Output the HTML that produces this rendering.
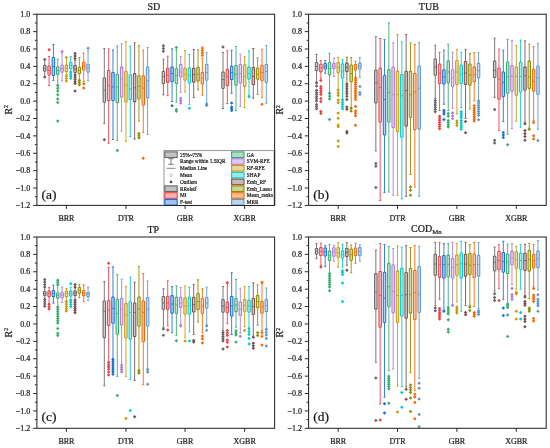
<!DOCTYPE html>
<html lang="en"><head><meta charset="utf-8"><title>Box plots of R2</title>
<style>html,body{margin:0;padding:0;background:#fff}.t{font-family:"Liberation Serif","Times New Roman",serif;stroke:#222;stroke-width:.22px}body{width:550px;height:448px;overflow:hidden}</style></head>
<body>
<svg width="550" height="448" viewBox="0 0 550 448" style="display:block">
<rect width="550" height="448" fill="#fff"/>
<path d="M44.75 59.6V65.3M44.75 71.1V77.1M43.7 59.6H45.8M43.7 77.1H45.8" stroke="#666666" stroke-width="0.88" fill="none"/><rect x="43.53" y="65.3" width="2.45" height="5.8" rx="0.6" fill="#666666" fill-opacity="0.3" stroke="#666666" stroke-width="1.05"/><path d="M43.53 68.2H45.98" stroke="#666666" stroke-width="0.8"/><path d="M44.75 57.85L46.5 59.6L44.75 61.35L43 59.6Z" fill="#666666"/><path d="M44.75 75.35L46.5 77.1L44.75 78.85L43 77.1Z" fill="#666666"/>
<path d="M49.08 56.4V66M49.08 74.9V85.5M48.03 56.4H50.13M48.03 85.5H50.13" stroke="#F14040" stroke-width="0.88" fill="none"/><rect x="47.86" y="66" width="2.45" height="8.9" rx="0.6" fill="#F14040" fill-opacity="0.3" stroke="#F14040" stroke-width="1.05"/><path d="M47.86 70.5H50.31" stroke="#F14040" stroke-width="0.8"/><path d="M49.08 48.05L50.83 49.8L49.08 51.55L47.33 49.8Z" fill="#F14040"/>
<path d="M53.41 44.4V57.5M53.41 75.5V80.4M52.36 44.4H54.46M52.36 80.4H54.46" stroke="#1A6FDF" stroke-width="0.88" fill="none"/><rect x="52.19" y="57.5" width="2.45" height="18" rx="0.6" fill="#1A6FDF" fill-opacity="0.3" stroke="#1A6FDF" stroke-width="1.05"/><path d="M52.19 66.5H54.64" stroke="#1A6FDF" stroke-width="0.8"/>
<path d="M57.74 59.4V66.7M57.74 74.4V84.9M56.69 59.4H58.79M56.69 84.9H58.79" stroke="#37AD6B" stroke-width="0.88" fill="none"/><rect x="56.52" y="66.7" width="2.45" height="7.7" rx="0.6" fill="#37AD6B" fill-opacity="0.3" stroke="#37AD6B" stroke-width="1.05"/><path d="M56.52 70.5H58.97" stroke="#37AD6B" stroke-width="0.8"/><path d="M57.74 83.75L59.49 85.5L57.74 87.25L55.99 85.5Z" fill="#37AD6B"/><path d="M57.74 86.5L59.49 88.25L57.74 90L55.99 88.25Z" fill="#37AD6B"/><path d="M57.74 89.25L59.49 91L57.74 92.75L55.99 91Z" fill="#37AD6B"/><path d="M57.74 92.95L59.49 94.7L57.74 96.45L55.99 94.7Z" fill="#37AD6B"/><path d="M57.74 97.35L59.49 99.1L57.74 100.85L55.99 99.1Z" fill="#37AD6B"/><path d="M57.74 100.65L59.49 102.4L57.74 104.15L55.99 102.4Z" fill="#37AD6B"/><path d="M57.74 119.15L59.49 120.9L57.74 122.65L55.99 120.9Z" fill="#37AD6B"/>
<path d="M62.07 53.1V64.9M62.07 72.2V80.9M61.02 53.1H63.12M61.02 80.9H63.12" stroke="#B177DE" stroke-width="0.88" fill="none"/><rect x="60.85" y="64.9" width="2.45" height="7.3" rx="0.6" fill="#B177DE" fill-opacity="0.3" stroke="#B177DE" stroke-width="1.05"/><path d="M60.85 68.5H63.3" stroke="#B177DE" stroke-width="0.8"/><path d="M62.07 49.75L63.82 51.5L62.07 53.25L60.32 51.5Z" fill="#B177DE"/>
<path d="M66.4 57.5V65.1M66.4 71.6V74.9M65.35 57.5H67.45M65.35 74.9H67.45" stroke="#CC9900" stroke-width="0.88" fill="none"/><rect x="65.18" y="65.1" width="2.45" height="6.5" rx="0.6" fill="#CC9900" fill-opacity="0.3" stroke="#CC9900" stroke-width="1.05"/><path d="M65.18 68.3H67.62" stroke="#CC9900" stroke-width="0.8"/><path d="M66.4 55.75L68.15 57.5L66.4 59.25L64.65 57.5Z" fill="#CC9900"/><path d="M66.4 74.25L68.15 76L66.4 77.75L64.65 76Z" fill="#CC9900"/><path d="M66.4 76.7L68.15 78.45L66.4 80.2L64.65 78.45Z" fill="#CC9900"/><path d="M66.4 79.15L68.15 80.9L66.4 82.65L64.65 80.9Z" fill="#CC9900"/>
<path d="M70.73 56.4V62.4M70.73 68.9V71.6M69.68 56.4H71.78M69.68 71.6H71.78" stroke="#00CBCC" stroke-width="0.88" fill="none"/><rect x="69.51" y="62.4" width="2.45" height="6.5" rx="0.6" fill="#00CBCC" fill-opacity="0.3" stroke="#00CBCC" stroke-width="1.05"/><path d="M69.51 65.6H71.95" stroke="#00CBCC" stroke-width="0.8"/><path d="M70.73 70.45L72.48 72.2L70.73 73.95L68.98 72.2Z" fill="#00CBCC"/><path d="M70.73 72.45L72.48 74.2L70.73 75.95L68.98 74.2Z" fill="#00CBCC"/><path d="M70.73 74.45L72.48 76.2L70.73 77.95L68.98 76.2Z" fill="#00CBCC"/><path d="M70.73 76.45L72.48 78.2L70.73 79.95L68.98 78.2Z" fill="#00CBCC"/>
<path d="M75.06 60.2V65.6M75.06 72.7V74.4M74.01 60.2H76.11M74.01 74.4H76.11" stroke="#7D4E4E" stroke-width="0.88" fill="none"/><rect x="73.84" y="65.6" width="2.45" height="7.1" rx="0.6" fill="#7D4E4E" fill-opacity="0.3" stroke="#7D4E4E" stroke-width="1.05"/><path d="M73.84 69H76.28" stroke="#7D4E4E" stroke-width="0.8"/><path d="M75.06 51.85L76.81 53.6L75.06 55.35L73.31 53.6Z" fill="#7D4E4E"/><path d="M75.06 54.3L76.81 56.05L75.06 57.8L73.31 56.05Z" fill="#7D4E4E"/><path d="M75.06 56.75L76.81 58.5L75.06 60.25L73.31 58.5Z" fill="#7D4E4E"/><path d="M75.06 73.15L76.81 74.9L75.06 76.65L73.31 74.9Z" fill="#7D4E4E"/><path d="M75.06 75.33L76.81 77.08L75.06 78.83L73.31 77.08Z" fill="#7D4E4E"/><path d="M75.06 77.5L76.81 79.25L75.06 81L73.31 79.25Z" fill="#7D4E4E"/><path d="M75.06 79.67L76.81 81.42L75.06 83.17L73.31 81.42Z" fill="#7D4E4E"/><path d="M75.06 81.85L76.81 83.6L75.06 85.35L73.31 83.6Z" fill="#7D4E4E"/><path d="M75.06 89.15L76.81 90.9L75.06 92.65L73.31 90.9Z" fill="#7D4E4E"/>
<path d="M79.39 57.5V67.3M79.39 73.8V79.8M78.34 57.5H80.44M78.34 79.8H80.44" stroke="#8E8E00" stroke-width="0.88" fill="none"/><rect x="78.17" y="67.3" width="2.45" height="6.5" rx="0.6" fill="#8E8E00" fill-opacity="0.3" stroke="#8E8E00" stroke-width="1.05"/><path d="M78.17 70.5H80.61" stroke="#8E8E00" stroke-width="0.8"/><path d="M79.39 78.65L81.14 80.4L79.39 82.15L77.64 80.4Z" fill="#8E8E00"/><path d="M79.39 80.8L81.14 82.55L79.39 84.3L77.64 82.55Z" fill="#8E8E00"/><path d="M79.39 82.95L81.14 84.7L79.39 86.45L77.64 84.7Z" fill="#8E8E00"/>
<path d="M83.72 53.1V62.4M83.72 70V81.5M82.67 53.1H84.77M82.67 81.5H84.77" stroke="#FB6501" stroke-width="0.88" fill="none"/><rect x="82.5" y="62.4" width="2.45" height="7.6" rx="0.6" fill="#FB6501" fill-opacity="0.3" stroke="#FB6501" stroke-width="1.05"/><path d="M82.5 66H84.94" stroke="#FB6501" stroke-width="0.8"/><path d="M83.72 82.05L85.47 83.8L83.72 85.55L81.97 83.8Z" fill="#FB6501"/><path d="M83.72 86.15L85.47 87.9L83.72 89.65L81.97 87.9Z" fill="#FB6501"/>
<path d="M88.05 50.9V64.2M88.05 72.2V80.9M87 50.9H89.1M87 80.9H89.1" stroke="#5A98D0" stroke-width="0.88" fill="none"/><rect x="86.83" y="64.2" width="2.45" height="8" rx="0.6" fill="#5A98D0" fill-opacity="0.3" stroke="#5A98D0" stroke-width="1.05"/><path d="M86.83 68H89.28" stroke="#5A98D0" stroke-width="0.8"/><path d="M88.05 46.45L89.8 48.2L88.05 49.95L86.3 48.2Z" fill="#5A98D0"/>
<path d="M104.3 48.5V78M104.3 102.2V123.6M103.25 48.5H105.35M103.25 123.6H105.35" stroke="#666666" stroke-width="0.88" fill="none"/><rect x="103.08" y="78" width="2.45" height="24.2" rx="0.6" fill="#666666" fill-opacity="0.3" stroke="#666666" stroke-width="1.05"/><path d="M103.08 90.2H105.53" stroke="#666666" stroke-width="0.8"/><path d="M104.3 138.05L106.05 139.8L104.3 141.55L102.55 139.8Z" fill="#666666"/>
<path d="M108.63 48.9V70.4M108.63 100.5V143.3M107.58 48.9H109.68M107.58 143.3H109.68" stroke="#F14040" stroke-width="0.88" fill="none"/><rect x="107.41" y="70.4" width="2.45" height="30.1" rx="0.6" fill="#F14040" fill-opacity="0.3" stroke="#F14040" stroke-width="1.05"/><path d="M107.41 85.6H109.85" stroke="#F14040" stroke-width="0.8"/>
<path d="M112.96 50V72.5M112.96 100.5V139.5M111.91 50H114.01M111.91 139.5H114.01" stroke="#1A6FDF" stroke-width="0.88" fill="none"/><rect x="111.74" y="72.5" width="2.45" height="28" rx="0.6" fill="#1A6FDF" fill-opacity="0.3" stroke="#1A6FDF" stroke-width="1.05"/><path d="M111.74 86.9H114.19" stroke="#1A6FDF" stroke-width="0.8"/>
<path d="M117.29 46V74.2M117.29 102.7V140.2M116.24 46H118.34M116.24 140.2H118.34" stroke="#37AD6B" stroke-width="0.88" fill="none"/><rect x="116.07" y="74.2" width="2.45" height="28.5" rx="0.6" fill="#37AD6B" fill-opacity="0.3" stroke="#37AD6B" stroke-width="1.05"/><path d="M116.07 86.9H118.52" stroke="#37AD6B" stroke-width="0.8"/><path d="M117.29 148.85L119.04 150.6L117.29 152.35L115.54 150.6Z" fill="#37AD6B"/>
<path d="M121.62 43.9V67.1M121.62 97.3V131.3M120.57 43.9H122.67M120.57 131.3H122.67" stroke="#B177DE" stroke-width="0.88" fill="none"/><rect x="120.4" y="67.1" width="2.45" height="30.2" rx="0.6" fill="#B177DE" fill-opacity="0.3" stroke="#B177DE" stroke-width="1.05"/><path d="M120.4 78.7H122.84" stroke="#B177DE" stroke-width="0.8"/>
<path d="M125.95 41.5V71.5M125.95 102V141.3M124.9 41.5H127M124.9 141.3H127" stroke="#CC9900" stroke-width="0.88" fill="none"/><rect x="124.73" y="71.5" width="2.45" height="30.5" rx="0.6" fill="#CC9900" fill-opacity="0.3" stroke="#CC9900" stroke-width="1.05"/><path d="M124.73 85.3H127.17" stroke="#CC9900" stroke-width="0.8"/>
<path d="M130.28 46V74.7M130.28 99.5V136.5M129.23 46H131.33M129.23 136.5H131.33" stroke="#00CBCC" stroke-width="0.88" fill="none"/><rect x="129.06" y="74.7" width="2.45" height="24.8" rx="0.6" fill="#00CBCC" fill-opacity="0.3" stroke="#00CBCC" stroke-width="1.05"/><path d="M129.06 88.9H131.5" stroke="#00CBCC" stroke-width="0.8"/>
<path d="M134.61 42.8V73.6M134.61 101.6V139.1M133.56 42.8H135.66M133.56 139.1H135.66" stroke="#7D4E4E" stroke-width="0.88" fill="none"/><rect x="133.39" y="73.6" width="2.45" height="28" rx="0.6" fill="#7D4E4E" fill-opacity="0.3" stroke="#7D4E4E" stroke-width="1.05"/><path d="M133.39 87.8H135.84" stroke="#7D4E4E" stroke-width="0.8"/>
<path d="M138.94 45.6V75.8M138.94 98.9V121.2M137.89 45.6H139.99M137.89 121.2H139.99" stroke="#8E8E00" stroke-width="0.88" fill="none"/><rect x="137.72" y="75.8" width="2.45" height="23.1" rx="0.6" fill="#8E8E00" fill-opacity="0.3" stroke="#8E8E00" stroke-width="1.05"/><path d="M137.72 86.4H140.16" stroke="#8E8E00" stroke-width="0.8"/><path d="M138.94 131.75L140.69 133.5L138.94 135.25L137.19 133.5Z" fill="#8E8E00"/><path d="M138.94 133.9L140.69 135.65L138.94 137.4L137.19 135.65Z" fill="#8E8E00"/><path d="M138.94 136.05L140.69 137.8L138.94 139.55L137.19 137.8Z" fill="#8E8E00"/>
<path d="M143.27 50V75.8M143.27 105.2V132.4M142.22 50H144.32M142.22 132.4H144.32" stroke="#FB6501" stroke-width="0.88" fill="none"/><rect x="142.05" y="75.8" width="2.45" height="29.4" rx="0.6" fill="#FB6501" fill-opacity="0.3" stroke="#FB6501" stroke-width="1.05"/><path d="M142.05 88.2H144.5" stroke="#FB6501" stroke-width="0.8"/><path d="M143.27 156.55L145.02 158.3L143.27 160.05L141.52 158.3Z" fill="#FB6501"/>
<path d="M147.6 47.5V67.1M147.6 97.8V134.5M146.55 47.5H148.65M146.55 134.5H148.65" stroke="#5A98D0" stroke-width="0.88" fill="none"/><rect x="146.38" y="67.1" width="2.45" height="30.7" rx="0.6" fill="#5A98D0" fill-opacity="0.3" stroke="#5A98D0" stroke-width="1.05"/><path d="M146.38 80.6H148.82" stroke="#5A98D0" stroke-width="0.8"/>
<path d="M163.4 59.2V71.4M163.4 83.5V94.9M162.35 59.2H164.45M162.35 94.9H164.45" stroke="#666666" stroke-width="0.88" fill="none"/><rect x="162.18" y="71.4" width="2.45" height="12.1" rx="0.6" fill="#666666" fill-opacity="0.3" stroke="#666666" stroke-width="1.05"/><path d="M162.18 76.4H164.62" stroke="#666666" stroke-width="0.8"/><path d="M163.4 44.05L165.15 45.8L163.4 47.55L161.65 45.8Z" fill="#666666"/><path d="M163.4 46.8L165.15 48.55L163.4 50.3L161.65 48.55Z" fill="#666666"/><path d="M163.4 49.55L165.15 51.3L163.4 53.05L161.65 51.3Z" fill="#666666"/>
<path d="M167.73 56.2V68.2M167.73 82.4V95.7M166.68 56.2H168.78M166.68 95.7H168.78" stroke="#F14040" stroke-width="0.88" fill="none"/><rect x="166.51" y="68.2" width="2.45" height="14.2" rx="0.6" fill="#F14040" fill-opacity="0.3" stroke="#F14040" stroke-width="1.05"/><path d="M166.51 75.3H168.96" stroke="#F14040" stroke-width="0.8"/>
<path d="M172.06 48.8V67.1M172.06 81.8V101.5M171.01 48.8H173.11M171.01 101.5H173.11" stroke="#1A6FDF" stroke-width="0.88" fill="none"/><rect x="170.84" y="67.1" width="2.45" height="14.7" rx="0.6" fill="#1A6FDF" fill-opacity="0.3" stroke="#1A6FDF" stroke-width="1.05"/><path d="M170.84 73.4H173.28" stroke="#1A6FDF" stroke-width="0.8"/><path d="M172.06 104.05L173.81 105.8L172.06 107.55L170.31 105.8Z" fill="#1A6FDF"/>
<path d="M176.39 49.9V68.7M176.39 83.5V102M175.34 49.9H177.44M175.34 102H177.44" stroke="#37AD6B" stroke-width="0.88" fill="none"/><rect x="175.17" y="68.7" width="2.45" height="14.8" rx="0.6" fill="#37AD6B" fill-opacity="0.3" stroke="#37AD6B" stroke-width="1.05"/><path d="M175.17 75.6H177.62" stroke="#37AD6B" stroke-width="0.8"/><path d="M176.39 45.75L178.14 47.5L176.39 49.25L174.64 47.5Z" fill="#37AD6B"/><path d="M176.39 107.85L178.14 109.6L176.39 111.35L174.64 109.6Z" fill="#37AD6B"/><path d="M176.39 109.55L178.14 111.3L176.39 113.05L174.64 111.3Z" fill="#37AD6B"/>
<path d="M180.72 56.4V64.4M180.72 76.9V92.4M179.67 56.4H181.77M179.67 92.4H181.77" stroke="#B177DE" stroke-width="0.88" fill="none"/><rect x="179.5" y="64.4" width="2.45" height="12.5" rx="0.6" fill="#B177DE" fill-opacity="0.3" stroke="#B177DE" stroke-width="1.05"/><path d="M179.5 72H181.94" stroke="#B177DE" stroke-width="0.8"/><path d="M180.72 96.45L182.47 98.2L180.72 99.95L178.97 98.2Z" fill="#B177DE"/><path d="M180.72 98.85L182.47 100.6L180.72 102.35L178.97 100.6Z" fill="#B177DE"/><path d="M180.72 101.25L182.47 103L180.72 104.75L178.97 103Z" fill="#B177DE"/>
<path d="M185.05 50.5V68.3M185.05 80.2V92M184 50.5H186.1M184 92H186.1" stroke="#CC9900" stroke-width="0.88" fill="none"/><rect x="183.83" y="68.3" width="2.45" height="11.9" rx="0.6" fill="#CC9900" fill-opacity="0.3" stroke="#CC9900" stroke-width="1.05"/><path d="M183.83 74.2H186.28" stroke="#CC9900" stroke-width="0.8"/>
<path d="M189.38 54.5V68M189.38 83.2V104.4M188.33 54.5H190.43M188.33 104.4H190.43" stroke="#00CBCC" stroke-width="0.88" fill="none"/><rect x="188.16" y="68" width="2.45" height="15.2" rx="0.6" fill="#00CBCC" fill-opacity="0.3" stroke="#00CBCC" stroke-width="1.05"/><path d="M188.16 75.3H190.61" stroke="#00CBCC" stroke-width="0.8"/><path d="M189.38 106.55L191.13 108.3L189.38 110.05L187.63 108.3Z" fill="#00CBCC"/>
<path d="M193.71 49.6V68.2M193.71 82.1V97.6M192.66 49.6H194.76M192.66 97.6H194.76" stroke="#7D4E4E" stroke-width="0.88" fill="none"/><rect x="192.49" y="68.2" width="2.45" height="13.9" rx="0.6" fill="#7D4E4E" fill-opacity="0.3" stroke="#7D4E4E" stroke-width="1.05"/><path d="M192.49 74.7H194.94" stroke="#7D4E4E" stroke-width="0.8"/>
<path d="M198.04 49.9V67.2M198.04 81.1V89.8M196.99 49.9H199.09M196.99 89.8H199.09" stroke="#8E8E00" stroke-width="0.88" fill="none"/><rect x="196.82" y="67.2" width="2.45" height="13.9" rx="0.6" fill="#8E8E00" fill-opacity="0.3" stroke="#8E8E00" stroke-width="1.05"/><path d="M196.82 74.2H199.27" stroke="#8E8E00" stroke-width="0.8"/>
<path d="M202.37 58.4V72.6M202.37 84V95.2M201.32 58.4H203.42M201.32 95.2H203.42" stroke="#FB6501" stroke-width="0.88" fill="none"/><rect x="201.15" y="72.6" width="2.45" height="11.4" rx="0.6" fill="#FB6501" fill-opacity="0.3" stroke="#FB6501" stroke-width="1.05"/><path d="M201.15 78H203.59" stroke="#FB6501" stroke-width="0.8"/><path d="M202.37 46.25L204.12 48L202.37 49.75L200.62 48Z" fill="#FB6501"/><path d="M202.37 48.78L204.12 50.53L202.37 52.28L200.62 50.53Z" fill="#FB6501"/><path d="M202.37 51.32L204.12 53.07L202.37 54.82L200.62 53.07Z" fill="#FB6501"/><path d="M202.37 53.85L204.12 55.6L202.37 57.35L200.62 55.6Z" fill="#FB6501"/>
<path d="M206.7 52.7V64.4M206.7 80.2V103.1M205.65 52.7H207.75M205.65 103.1H207.75" stroke="#5A98D0" stroke-width="0.88" fill="none"/><rect x="205.48" y="64.4" width="2.45" height="15.8" rx="0.6" fill="#5A98D0" fill-opacity="0.3" stroke="#5A98D0" stroke-width="1.05"/><path d="M205.48 72.5H207.93" stroke="#5A98D0" stroke-width="0.8"/><path d="M206.7 102.45L208.45 104.2L206.7 105.95L204.95 104.2Z" fill="#5A98D0"/><path d="M206.7 103.75L208.45 105.5L206.7 107.25L204.95 105.5Z" fill="#5A98D0"/>
<path d="M223 52.4V72M223 88.4V108.5M221.95 52.4H224.05M221.95 108.5H224.05" stroke="#666666" stroke-width="0.88" fill="none"/><rect x="221.78" y="72" width="2.45" height="16.4" rx="0.6" fill="#666666" fill-opacity="0.3" stroke="#666666" stroke-width="1.05"/><path d="M221.78 79.6H224.22" stroke="#666666" stroke-width="0.8"/><path d="M223 45.15L224.75 46.9L223 48.65L221.25 46.9Z" fill="#666666"/>
<path d="M227.33 50.7V69.3M227.33 85.6V103.6M226.28 50.7H228.38M226.28 103.6H228.38" stroke="#F14040" stroke-width="0.88" fill="none"/><rect x="226.11" y="69.3" width="2.45" height="16.3" rx="0.6" fill="#F14040" fill-opacity="0.3" stroke="#F14040" stroke-width="1.05"/><path d="M226.11 76.4H228.56" stroke="#F14040" stroke-width="0.8"/>
<path d="M231.66 50.2V66.2M231.66 79.6V93.3M230.61 50.2H232.71M230.61 93.3H232.71" stroke="#1A6FDF" stroke-width="0.88" fill="none"/><rect x="230.44" y="66.2" width="2.45" height="13.4" rx="0.6" fill="#1A6FDF" fill-opacity="0.3" stroke="#1A6FDF" stroke-width="1.05"/><path d="M230.44 72.5H232.88" stroke="#1A6FDF" stroke-width="0.8"/><path d="M231.66 101.35L233.41 103.1L231.66 104.85L229.91 103.1Z" fill="#1A6FDF"/><path d="M231.66 105.25L233.41 107L231.66 108.75L229.91 107Z" fill="#1A6FDF"/><path d="M231.66 107L233.41 108.75L231.66 110.5L229.91 108.75Z" fill="#1A6FDF"/><path d="M231.66 108.75L233.41 110.5L231.66 112.25L229.91 110.5Z" fill="#1A6FDF"/>
<path d="M235.99 46.4V65.5M235.99 85.1V110.7M234.94 46.4H237.04M234.94 110.7H237.04" stroke="#37AD6B" stroke-width="0.88" fill="none"/><rect x="234.77" y="65.5" width="2.45" height="19.6" rx="0.6" fill="#37AD6B" fill-opacity="0.3" stroke="#37AD6B" stroke-width="1.05"/><path d="M234.77 74.2H237.22" stroke="#37AD6B" stroke-width="0.8"/>
<path d="M240.32 54.2V64.4M240.32 82.9V106.4M239.27 54.2H241.37M239.27 106.4H241.37" stroke="#B177DE" stroke-width="0.88" fill="none"/><rect x="239.09" y="64.4" width="2.45" height="18.5" rx="0.6" fill="#B177DE" fill-opacity="0.3" stroke="#B177DE" stroke-width="1.05"/><path d="M239.09 73.6H241.54" stroke="#B177DE" stroke-width="0.8"/>
<path d="M244.65 56.4V64.7M244.65 86.5V107.5M243.6 56.4H245.7M243.6 107.5H245.7" stroke="#CC9900" stroke-width="0.88" fill="none"/><rect x="243.43" y="64.7" width="2.45" height="21.8" rx="0.6" fill="#CC9900" fill-opacity="0.3" stroke="#CC9900" stroke-width="1.05"/><path d="M243.43 76.4H245.88" stroke="#CC9900" stroke-width="0.8"/>
<path d="M248.98 50.9V67.1M248.98 79.1V95.5M247.93 50.9H250.03M247.93 95.5H250.03" stroke="#00CBCC" stroke-width="0.88" fill="none"/><rect x="247.76" y="67.1" width="2.45" height="12" rx="0.6" fill="#00CBCC" fill-opacity="0.3" stroke="#00CBCC" stroke-width="1.05"/><path d="M247.76 73.6H250.21" stroke="#00CBCC" stroke-width="0.8"/><path d="M248.98 95.05L250.73 96.8L248.98 98.55L247.23 96.8Z" fill="#00CBCC"/>
<path d="M253.31 48.5V67.6M253.31 84.5V98.2M252.26 48.5H254.36M252.26 98.2H254.36" stroke="#7D4E4E" stroke-width="0.88" fill="none"/><rect x="252.09" y="67.6" width="2.45" height="16.9" rx="0.6" fill="#7D4E4E" fill-opacity="0.3" stroke="#7D4E4E" stroke-width="1.05"/><path d="M252.09 76.4H254.53" stroke="#7D4E4E" stroke-width="0.8"/>
<path d="M257.64 57.8V68.2M257.64 79.1V94.4M256.59 57.8H258.69M256.59 94.4H258.69" stroke="#8E8E00" stroke-width="0.88" fill="none"/><rect x="256.41" y="68.2" width="2.45" height="10.9" rx="0.6" fill="#8E8E00" fill-opacity="0.3" stroke="#8E8E00" stroke-width="1.05"/><path d="M256.41 74.2H258.87" stroke="#8E8E00" stroke-width="0.8"/>
<path d="M261.97 49.4V65.5M261.97 80.7V97.4M260.92 49.4H263.02M260.92 97.4H263.02" stroke="#FB6501" stroke-width="0.88" fill="none"/><rect x="260.75" y="65.5" width="2.45" height="15.2" rx="0.6" fill="#FB6501" fill-opacity="0.3" stroke="#FB6501" stroke-width="1.05"/><path d="M260.75 72.5H263.2" stroke="#FB6501" stroke-width="0.8"/><path d="M261.97 102.45L263.72 104.2L261.97 105.95L260.22 104.2Z" fill="#FB6501"/>
<path d="M266.3 45.5V64.4M266.3 82.4V103.3M265.25 45.5H267.35M265.25 103.3H267.35" stroke="#5A98D0" stroke-width="0.88" fill="none"/><rect x="265.07" y="64.4" width="2.45" height="18" rx="0.6" fill="#5A98D0" fill-opacity="0.3" stroke="#5A98D0" stroke-width="1.05"/><path d="M265.07 71.5H267.53" stroke="#5A98D0" stroke-width="0.8"/>
<rect x="36.9" y="14.25" width="237.7" height="191.15" fill="none" stroke="#262626" stroke-width="1.05"/>
<path d="M33.1 14.25H36.9M34.9 22.94H36.9M33.1 31.63H36.9M34.9 40.32H36.9M33.1 49H36.9M34.9 57.69H36.9M33.1 66.38H36.9M34.9 75.07H36.9M33.1 83.76H36.9M34.9 92.45H36.9M33.1 101.14H36.9M34.9 109.82H36.9M33.1 118.51H36.9M34.9 127.2H36.9M33.1 135.89H36.9M34.9 144.58H36.9M33.1 153.27H36.9M34.9 161.96H36.9M33.1 170.65H36.9M34.9 179.33H36.9M33.1 188.02H36.9M34.9 196.71H36.9M33.1 205.4H36.9M66.4 205.4V208.9M125.95 205.4V208.9M185.05 205.4V208.9M244.65 205.4V208.9" stroke="#262626" stroke-width="1" fill="none"/>
<text x="30.3" y="16.95" text-anchor="end" class="t" font-size="8" fill="#1a1a1a">1.0</text>
<text x="30.3" y="34.33" text-anchor="end" class="t" font-size="8" fill="#1a1a1a">0.8</text>
<text x="30.3" y="51.7" text-anchor="end" class="t" font-size="8" fill="#1a1a1a">0.6</text>
<text x="30.3" y="69.08" text-anchor="end" class="t" font-size="8" fill="#1a1a1a">0.4</text>
<text x="30.3" y="86.46" text-anchor="end" class="t" font-size="8" fill="#1a1a1a">0.2</text>
<text x="30.3" y="103.84" text-anchor="end" class="t" font-size="8" fill="#1a1a1a">0.0</text>
<text x="30.3" y="121.21" text-anchor="end" class="t" font-size="8" fill="#1a1a1a">−0.2</text>
<text x="30.3" y="138.59" text-anchor="end" class="t" font-size="8" fill="#1a1a1a">−0.4</text>
<text x="30.3" y="155.97" text-anchor="end" class="t" font-size="8" fill="#1a1a1a">−0.6</text>
<text x="30.3" y="173.35" text-anchor="end" class="t" font-size="8" fill="#1a1a1a">−0.8</text>
<text x="30.3" y="190.72" text-anchor="end" class="t" font-size="8" fill="#1a1a1a">−1.0</text>
<text x="30.3" y="208.1" text-anchor="end" class="t" font-size="8" fill="#1a1a1a">−1.2</text>
<text x="66.4" y="220.7" text-anchor="middle" class="t" font-size="8" fill="#1a1a1a">BRR</text>
<text x="125.95" y="220.7" text-anchor="middle" class="t" font-size="8" fill="#1a1a1a">DTR</text>
<text x="185.05" y="220.7" text-anchor="middle" class="t" font-size="8" fill="#1a1a1a">GBR</text>
<text x="244.65" y="220.7" text-anchor="middle" class="t" font-size="8" fill="#1a1a1a">XGBR</text>
<text x="153.8" y="10.35" text-anchor="middle" class="t" font-size="10" fill="#1a1a1a">SD</text>
<text transform="translate(11.7 109.83) rotate(-90)" text-anchor="middle" class="t" font-size="10" fill="#1a1a1a">R<tspan font-size="5.6" dy="-3.9">2</tspan></text>
<text x="41.5" y="198.5" class="t" font-size="13.5" fill="#111">(a)</text>
<path d="M316.55 54.4V62.4M316.55 70.5V82M315.5 54.4H317.6M315.5 82H317.6" stroke="#666666" stroke-width="0.88" fill="none"/><rect x="315.32" y="62.4" width="2.45" height="8.1" rx="0.6" fill="#666666" fill-opacity="0.3" stroke="#666666" stroke-width="1.05"/><path d="M315.32 66.5H317.78" stroke="#666666" stroke-width="0.8"/><path d="M316.55 81.25L318.3 83L316.55 84.75L314.8 83Z" fill="#666666"/><path d="M316.55 84.25L318.3 86L316.55 87.75L314.8 86Z" fill="#666666"/><path d="M316.55 88.45L318.3 90.2L316.55 91.95L314.8 90.2Z" fill="#666666"/><path d="M316.55 90.65L318.3 92.4L316.55 94.15L314.8 92.4Z" fill="#666666"/><path d="M316.55 92.8L318.3 94.55L316.55 96.3L314.8 94.55Z" fill="#666666"/><path d="M316.55 94.95L318.3 96.7L316.55 98.45L314.8 96.7Z" fill="#666666"/><path d="M316.55 97.1L318.3 98.85L316.55 100.6L314.8 98.85Z" fill="#666666"/><path d="M316.55 99.25L318.3 101L316.55 102.75L314.8 101Z" fill="#666666"/><path d="M316.55 102.65L318.3 104.4L316.55 106.15L314.8 104.4Z" fill="#666666"/><path d="M316.55 104.8L318.3 106.55L316.55 108.3L314.8 106.55Z" fill="#666666"/><path d="M316.55 106.95L318.3 108.7L316.55 110.45L314.8 108.7Z" fill="#666666"/>
<path d="M320.88 60.7V64.2M320.88 71.9V78.2M319.83 60.7H321.93M319.83 78.2H321.93" stroke="#F14040" stroke-width="0.88" fill="none"/><rect x="319.65" y="64.2" width="2.45" height="7.7" rx="0.6" fill="#F14040" fill-opacity="0.3" stroke="#F14040" stroke-width="1.05"/><path d="M319.65 68H322.11" stroke="#F14040" stroke-width="0.8"/><path d="M320.88 78.65L322.63 80.4L320.88 82.15L319.13 80.4Z" fill="#F14040"/><path d="M320.88 84.65L322.63 86.4L320.88 88.15L319.13 86.4Z" fill="#F14040"/><path d="M320.88 86.68L322.63 88.43L320.88 90.18L319.13 88.43Z" fill="#F14040"/><path d="M320.88 88.7L322.63 90.45L320.88 92.2L319.13 90.45Z" fill="#F14040"/><path d="M320.88 90.72L322.63 92.47L320.88 94.22L319.13 92.47Z" fill="#F14040"/><path d="M320.88 92.75L322.63 94.5L320.88 96.25L319.13 94.5Z" fill="#F14040"/><path d="M320.88 96.65L322.63 98.4L320.88 100.15L319.13 98.4Z" fill="#F14040"/><path d="M320.88 99.85L322.63 101.6L320.88 103.35L319.13 101.6Z" fill="#F14040"/><path d="M320.88 109.75L322.63 111.5L320.88 113.25L319.13 111.5Z" fill="#F14040"/><path d="M320.88 111.85L322.63 113.6L320.88 115.35L319.13 113.6Z" fill="#F14040"/>
<path d="M325.21 60.5V63.5M325.21 68.9V73.3M324.16 60.5H326.26M324.16 73.3H326.26" stroke="#1A6FDF" stroke-width="0.88" fill="none"/><rect x="323.98" y="63.5" width="2.45" height="5.4" rx="0.6" fill="#1A6FDF" fill-opacity="0.3" stroke="#1A6FDF" stroke-width="1.05"/><path d="M323.98 66.2H326.44" stroke="#1A6FDF" stroke-width="0.8"/>
<path d="M329.54 53.3V62.4M329.54 74.9V92.4M328.49 53.3H330.59M328.49 92.4H330.59" stroke="#37AD6B" stroke-width="0.88" fill="none"/><rect x="328.31" y="62.4" width="2.45" height="12.5" rx="0.6" fill="#37AD6B" fill-opacity="0.3" stroke="#37AD6B" stroke-width="1.05"/><path d="M328.31 68.6H330.76" stroke="#37AD6B" stroke-width="0.8"/><path d="M329.54 91.75L331.29 93.5L329.54 95.25L327.79 93.5Z" fill="#37AD6B"/><path d="M329.54 94.45L331.29 96.2L329.54 97.95L327.79 96.2Z" fill="#37AD6B"/><path d="M329.54 97.15L331.29 98.9L329.54 100.65L327.79 98.9Z" fill="#37AD6B"/><path d="M329.54 117.75L331.29 119.5L329.54 121.25L327.79 119.5Z" fill="#37AD6B"/>
<path d="M333.87 58V63.5M333.87 68.6V76.5M332.82 58H334.92M332.82 76.5H334.92" stroke="#B177DE" stroke-width="0.88" fill="none"/><rect x="332.64" y="63.5" width="2.45" height="5.1" rx="0.6" fill="#B177DE" fill-opacity="0.3" stroke="#B177DE" stroke-width="1.05"/><path d="M332.64 66H335.1" stroke="#B177DE" stroke-width="0.8"/>
<path d="M338.2 57.5V62.4M338.2 72.7V89.6M337.15 57.5H339.25M337.15 89.6H339.25" stroke="#CC9900" stroke-width="0.88" fill="none"/><rect x="336.97" y="62.4" width="2.45" height="10.3" rx="0.6" fill="#CC9900" fill-opacity="0.3" stroke="#CC9900" stroke-width="1.05"/><path d="M336.97 67.5H339.43" stroke="#CC9900" stroke-width="0.8"/><path d="M338.2 88.45L339.95 90.2L338.2 91.95L336.45 90.2Z" fill="#CC9900"/><path d="M338.2 91.15L339.95 92.9L338.2 94.65L336.45 92.9Z" fill="#CC9900"/><path d="M338.2 93.85L339.95 95.6L338.2 97.35L336.45 95.6Z" fill="#CC9900"/><path d="M338.2 98.25L339.95 100L338.2 101.75L336.45 100Z" fill="#CC9900"/><path d="M338.2 100.95L339.95 102.7L338.2 104.45L336.45 102.7Z" fill="#CC9900"/><path d="M338.2 111.35L339.95 113.1L338.2 114.85L336.45 113.1Z" fill="#CC9900"/><path d="M338.2 116.45L339.95 118.2L338.2 119.95L336.45 118.2Z" fill="#CC9900"/><path d="M338.2 123.35L339.95 125.1L338.2 126.85L336.45 125.1Z" fill="#CC9900"/><path d="M338.2 124.95L339.95 126.7L338.2 128.45L336.45 126.7Z" fill="#CC9900"/><path d="M338.2 139.15L339.95 140.9L338.2 142.65L336.45 140.9Z" fill="#CC9900"/><path d="M338.2 144.65L339.95 146.4L338.2 148.15L336.45 146.4Z" fill="#CC9900"/>
<path d="M342.53 59.6V64M342.53 78.2V99.5M341.48 59.6H343.58M341.48 99.5H343.58" stroke="#00CBCC" stroke-width="0.88" fill="none"/><rect x="341.3" y="64" width="2.45" height="14.2" rx="0.6" fill="#00CBCC" fill-opacity="0.3" stroke="#00CBCC" stroke-width="1.05"/><path d="M341.3 71H343.75" stroke="#00CBCC" stroke-width="0.8"/><path d="M342.53 98.25L344.28 100L342.53 101.75L340.78 100Z" fill="#00CBCC"/><path d="M342.53 100.42L344.28 102.17L342.53 103.92L340.78 102.17Z" fill="#00CBCC"/><path d="M342.53 102.6L344.28 104.35L342.53 106.1L340.78 104.35Z" fill="#00CBCC"/><path d="M342.53 104.78L344.28 106.53L342.53 108.28L340.78 106.53Z" fill="#00CBCC"/><path d="M342.53 106.95L344.28 108.7L342.53 110.45L340.78 108.7Z" fill="#00CBCC"/>
<path d="M346.86 57.2V63.1M346.86 71.6V83.6M345.81 57.2H347.91M345.81 83.6H347.91" stroke="#7D4E4E" stroke-width="0.88" fill="none"/><rect x="345.63" y="63.1" width="2.45" height="8.5" rx="0.6" fill="#7D4E4E" fill-opacity="0.3" stroke="#7D4E4E" stroke-width="1.05"/><path d="M345.63 67.3H348.09" stroke="#7D4E4E" stroke-width="0.8"/><path d="M346.86 82.45L348.61 84.2L346.86 85.95L345.11 84.2Z" fill="#7D4E4E"/><path d="M346.86 84.78L348.61 86.53L346.86 88.28L345.11 86.53Z" fill="#7D4E4E"/><path d="M346.86 87.1L348.61 88.85L346.86 90.6L345.11 88.85Z" fill="#7D4E4E"/><path d="M346.86 89.42L348.61 91.17L346.86 92.92L345.11 91.17Z" fill="#7D4E4E"/><path d="M346.86 91.75L348.61 93.5L346.86 95.25L345.11 93.5Z" fill="#7D4E4E"/><path d="M346.86 94.45L348.61 96.2L346.86 97.95L345.11 96.2Z" fill="#7D4E4E"/><path d="M346.86 97.75L348.61 99.5L346.86 101.25L345.11 99.5Z" fill="#7D4E4E"/><path d="M346.86 105.35L348.61 107.1L346.86 108.85L345.11 107.1Z" fill="#7D4E4E"/><path d="M346.86 107.55L348.61 109.3L346.86 111.05L345.11 109.3Z" fill="#7D4E4E"/><path d="M346.86 129.75L348.61 131.5L346.86 133.25L345.11 131.5Z" fill="#7D4E4E"/><path d="M346.86 131.25L348.61 133L346.86 134.75L345.11 133Z" fill="#7D4E4E"/>
<path d="M351.19 57.5V64.9M351.19 81.8V107.6M350.14 57.5H352.24M350.14 107.6H352.24" stroke="#8E8E00" stroke-width="0.88" fill="none"/><rect x="349.96" y="64.9" width="2.45" height="16.9" rx="0.6" fill="#8E8E00" fill-opacity="0.3" stroke="#8E8E00" stroke-width="1.05"/><path d="M349.96 73.5H352.42" stroke="#8E8E00" stroke-width="0.8"/><path d="M351.19 106.45L352.94 108.2L351.19 109.95L349.44 108.2Z" fill="#8E8E00"/><path d="M351.19 109.15L352.94 110.9L351.19 112.65L349.44 110.9Z" fill="#8E8E00"/>
<path d="M355.52 61.3V64.5M355.52 70V77.1M354.47 61.3H356.57M354.47 77.1H356.57" stroke="#FB6501" stroke-width="0.88" fill="none"/><rect x="354.29" y="64.5" width="2.45" height="5.5" rx="0.6" fill="#FB6501" fill-opacity="0.3" stroke="#FB6501" stroke-width="1.05"/><path d="M354.29 67.2H356.75" stroke="#FB6501" stroke-width="0.8"/><path d="M355.52 76.45L357.27 78.2L355.52 79.95L353.77 78.2Z" fill="#FB6501"/><path d="M355.52 78.58L357.27 80.33L355.52 82.08L353.77 80.33Z" fill="#FB6501"/><path d="M355.52 80.71L357.27 82.46L355.52 84.21L353.77 82.46Z" fill="#FB6501"/><path d="M355.52 82.84L357.27 84.59L355.52 86.34L353.77 84.59Z" fill="#FB6501"/><path d="M355.52 84.97L357.27 86.72L355.52 88.47L353.77 86.72Z" fill="#FB6501"/><path d="M355.52 87.1L357.27 88.85L355.52 90.6L353.77 88.85Z" fill="#FB6501"/><path d="M355.52 89.23L357.27 90.98L355.52 92.73L353.77 90.98Z" fill="#FB6501"/><path d="M355.52 91.36L357.27 93.11L355.52 94.86L353.77 93.11Z" fill="#FB6501"/><path d="M355.52 93.49L357.27 95.24L355.52 96.99L353.77 95.24Z" fill="#FB6501"/><path d="M355.52 95.62L357.27 97.37L355.52 99.12L353.77 97.37Z" fill="#FB6501"/><path d="M355.52 97.75L357.27 99.5L355.52 101.25L353.77 99.5Z" fill="#FB6501"/><path d="M355.52 104.75L357.27 106.5L355.52 108.25L353.77 106.5Z" fill="#FB6501"/><path d="M355.52 109.15L357.27 110.9L355.52 112.65L353.77 110.9Z" fill="#FB6501"/><path d="M355.52 111.6L357.27 113.35L355.52 115.1L353.77 113.35Z" fill="#FB6501"/><path d="M355.52 114.05L357.27 115.8L355.52 117.55L353.77 115.8Z" fill="#FB6501"/><path d="M355.52 123.55L357.27 125.3L355.52 127.05L353.77 125.3Z" fill="#FB6501"/>
<path d="M359.85 57.5V63.1M359.85 69.2V77.3M358.8 57.5H360.9M358.8 77.3H360.9" stroke="#5A98D0" stroke-width="0.88" fill="none"/><rect x="358.62" y="63.1" width="2.45" height="6.1" rx="0.6" fill="#5A98D0" fill-opacity="0.3" stroke="#5A98D0" stroke-width="1.05"/><path d="M358.62 66.1H361.07" stroke="#5A98D0" stroke-width="0.8"/><path d="M359.85 84.65L361.6 86.4L359.85 88.15L358.1 86.4Z" fill="#5A98D0"/><path d="M359.85 90.65L361.6 92.4L359.85 94.15L358.1 92.4Z" fill="#5A98D0"/><path d="M359.85 92.75L361.6 94.5L359.85 96.25L358.1 94.5Z" fill="#5A98D0"/>
<path d="M375.85 36.7V70.2M375.85 102.9V150.9M374.8 36.7H376.9M374.8 150.9H376.9" stroke="#666666" stroke-width="0.88" fill="none"/><rect x="374.62" y="70.2" width="2.45" height="32.7" rx="0.6" fill="#666666" fill-opacity="0.3" stroke="#666666" stroke-width="1.05"/><path d="M374.62 82.7H377.08" stroke="#666666" stroke-width="0.8"/><path d="M375.85 161.75L377.6 163.5L375.85 165.25L374.1 163.5Z" fill="#666666"/><path d="M375.85 164.45L377.6 166.2L375.85 167.95L374.1 166.2Z" fill="#666666"/><path d="M375.85 185.75L377.6 187.5L375.85 189.25L374.1 187.5Z" fill="#666666"/>
<path d="M380.18 38.5V68M380.18 122.2V200.5M379.13 38.5H381.23M379.13 200.5H381.23" stroke="#F14040" stroke-width="0.88" fill="none"/><rect x="378.95" y="68" width="2.45" height="54.2" rx="0.6" fill="#F14040" fill-opacity="0.3" stroke="#F14040" stroke-width="1.05"/><path d="M378.95 87.6H381.41" stroke="#F14040" stroke-width="0.8"/>
<path d="M384.51 39.6V75.4M384.51 134.9V192.4M383.46 39.6H385.56M383.46 192.4H385.56" stroke="#1A6FDF" stroke-width="0.88" fill="none"/><rect x="383.28" y="75.4" width="2.45" height="59.5" rx="0.6" fill="#1A6FDF" fill-opacity="0.3" stroke="#1A6FDF" stroke-width="1.05"/><path d="M383.28 99.6H385.74" stroke="#1A6FDF" stroke-width="0.8"/>
<path d="M388.84 22.9V69.6M388.84 122.2V192M387.79 22.9H389.89M387.79 192H389.89" stroke="#37AD6B" stroke-width="0.88" fill="none"/><rect x="387.61" y="69.6" width="2.45" height="52.6" rx="0.6" fill="#37AD6B" fill-opacity="0.3" stroke="#37AD6B" stroke-width="1.05"/><path d="M387.61 92.5H390.06" stroke="#37AD6B" stroke-width="0.8"/>
<path d="M393.17 42.9V66.9M393.17 127.5V195.3M392.12 42.9H394.22M392.12 195.3H394.22" stroke="#B177DE" stroke-width="0.88" fill="none"/><rect x="391.94" y="66.9" width="2.45" height="60.6" rx="0.6" fill="#B177DE" fill-opacity="0.3" stroke="#B177DE" stroke-width="1.05"/><path d="M391.94 94.7H394.4" stroke="#B177DE" stroke-width="0.8"/>
<path d="M397.5 34.5V71.1M397.5 131.6V195.3M396.45 34.5H398.55M396.45 195.3H398.55" stroke="#CC9900" stroke-width="0.88" fill="none"/><rect x="396.27" y="71.1" width="2.45" height="60.5" rx="0.6" fill="#CC9900" fill-opacity="0.3" stroke="#CC9900" stroke-width="1.05"/><path d="M396.27 94.7H398.73" stroke="#CC9900" stroke-width="0.8"/>
<path d="M401.83 41.8V74.5M401.83 137.3V198.9M400.78 41.8H402.88M400.78 198.9H402.88" stroke="#00CBCC" stroke-width="0.88" fill="none"/><rect x="400.6" y="74.5" width="2.45" height="62.8" rx="0.6" fill="#00CBCC" fill-opacity="0.3" stroke="#00CBCC" stroke-width="1.05"/><path d="M400.6 95.8H403.06" stroke="#00CBCC" stroke-width="0.8"/>
<path d="M406.16 34.5V71.3M406.16 126.1V196.4M405.11 34.5H407.21M405.11 196.4H407.21" stroke="#7D4E4E" stroke-width="0.88" fill="none"/><rect x="404.94" y="71.3" width="2.45" height="54.8" rx="0.6" fill="#7D4E4E" fill-opacity="0.3" stroke="#7D4E4E" stroke-width="1.05"/><path d="M404.94 90.4H407.39" stroke="#7D4E4E" stroke-width="0.8"/>
<path d="M410.49 42.9V71.3M410.49 117.4V174.5M409.44 42.9H411.54M409.44 174.5H411.54" stroke="#8E8E00" stroke-width="0.88" fill="none"/><rect x="409.26" y="71.3" width="2.45" height="46.1" rx="0.6" fill="#8E8E00" fill-opacity="0.3" stroke="#8E8E00" stroke-width="1.05"/><path d="M409.26 94.7H411.72" stroke="#8E8E00" stroke-width="0.8"/><path d="M410.49 185.15L412.24 186.9L410.49 188.65L408.74 186.9Z" fill="#8E8E00"/><path d="M410.49 188.45L412.24 190.2L410.49 191.95L408.74 190.2Z" fill="#8E8E00"/><path d="M410.49 193.55L412.24 195.3L410.49 197.05L408.74 195.3Z" fill="#8E8E00"/>
<path d="M414.82 44.5V73.5M414.82 129.6V186.9M413.77 44.5H415.87M413.77 186.9H415.87" stroke="#FB6501" stroke-width="0.88" fill="none"/><rect x="413.59" y="73.5" width="2.45" height="56.1" rx="0.6" fill="#FB6501" fill-opacity="0.3" stroke="#FB6501" stroke-width="1.05"/><path d="M413.59 92H416.05" stroke="#FB6501" stroke-width="0.8"/>
<path d="M419.15 42.6V66M419.15 129.1V196.2M418.1 42.6H420.2M418.1 196.2H420.2" stroke="#5A98D0" stroke-width="0.88" fill="none"/><rect x="417.92" y="66" width="2.45" height="63.1" rx="0.6" fill="#5A98D0" fill-opacity="0.3" stroke="#5A98D0" stroke-width="1.05"/><path d="M417.92 88.2H420.38" stroke="#5A98D0" stroke-width="0.8"/>
<path d="M435.25 45.3V58.9M435.25 75.3V98.7M434.2 45.3H436.3M434.2 98.7H436.3" stroke="#666666" stroke-width="0.88" fill="none"/><rect x="434.02" y="58.9" width="2.45" height="16.4" rx="0.6" fill="#666666" fill-opacity="0.3" stroke="#666666" stroke-width="1.05"/><path d="M434.02 67H436.48" stroke="#666666" stroke-width="0.8"/><path d="M435.25 98.65L437 100.4L435.25 102.15L433.5 100.4Z" fill="#666666"/><path d="M435.25 100.93L437 102.68L435.25 104.43L433.5 102.68Z" fill="#666666"/><path d="M435.25 103.21L437 104.96L435.25 106.71L433.5 104.96Z" fill="#666666"/><path d="M435.25 105.49L437 107.24L435.25 108.99L433.5 107.24Z" fill="#666666"/><path d="M435.25 107.77L437 109.52L435.25 111.27L433.5 109.52Z" fill="#666666"/><path d="M435.25 110.05L437 111.8L435.25 113.55L433.5 111.8Z" fill="#666666"/>
<path d="M439.58 52.4V64M439.58 83.5V110.5M438.53 52.4H440.63M438.53 110.5H440.63" stroke="#F14040" stroke-width="0.88" fill="none"/><rect x="438.35" y="64" width="2.45" height="19.5" rx="0.6" fill="#F14040" fill-opacity="0.3" stroke="#F14040" stroke-width="1.05"/><path d="M438.35 73H440.81" stroke="#F14040" stroke-width="0.8"/><path d="M439.58 114.45L441.33 116.2L439.58 117.95L437.83 116.2Z" fill="#F14040"/><path d="M439.58 116.53L441.33 118.28L439.58 120.03L437.83 118.28Z" fill="#F14040"/><path d="M439.58 118.62L441.33 120.37L439.58 122.12L437.83 120.37Z" fill="#F14040"/><path d="M439.58 120.7L441.33 122.45L439.58 124.2L437.83 122.45Z" fill="#F14040"/><path d="M439.58 122.78L441.33 124.53L439.58 126.28L437.83 124.53Z" fill="#F14040"/><path d="M439.58 124.87L441.33 126.62L439.58 128.37L437.83 126.62Z" fill="#F14040"/><path d="M439.58 126.95L441.33 128.7L439.58 130.45L437.83 128.7Z" fill="#F14040"/>
<path d="M443.91 50.2V69.8M443.91 84V104.2M442.86 50.2H444.96M442.86 104.2H444.96" stroke="#1A6FDF" stroke-width="0.88" fill="none"/><rect x="442.68" y="69.8" width="2.45" height="14.2" rx="0.6" fill="#1A6FDF" fill-opacity="0.3" stroke="#1A6FDF" stroke-width="1.05"/><path d="M442.68 77H445.13" stroke="#1A6FDF" stroke-width="0.8"/><path d="M443.91 108.45L445.66 110.2L443.91 111.95L442.16 110.2Z" fill="#1A6FDF"/><path d="M443.91 110.35L445.66 112.1L443.91 113.85L442.16 112.1Z" fill="#1A6FDF"/><path d="M443.91 112.25L445.66 114L443.91 115.75L442.16 114Z" fill="#1A6FDF"/><path d="M443.91 117.75L445.66 119.5L443.91 121.25L442.16 119.5Z" fill="#1A6FDF"/>
<path d="M448.24 44.2V61.1M448.24 82.9V110.5M447.19 44.2H449.29M447.19 110.5H449.29" stroke="#37AD6B" stroke-width="0.88" fill="none"/><rect x="447.01" y="61.1" width="2.45" height="21.8" rx="0.6" fill="#37AD6B" fill-opacity="0.3" stroke="#37AD6B" stroke-width="1.05"/><path d="M447.01 72H449.46" stroke="#37AD6B" stroke-width="0.8"/><path d="M448.24 111.75L449.99 113.5L448.24 115.25L446.49 113.5Z" fill="#37AD6B"/><path d="M448.24 114.45L449.99 116.2L448.24 117.95L446.49 116.2Z" fill="#37AD6B"/><path d="M448.24 118.75L449.99 120.5L448.24 122.25L446.49 120.5Z" fill="#37AD6B"/><path d="M448.24 120.95L449.99 122.7L448.24 124.45L446.49 122.7Z" fill="#37AD6B"/><path d="M448.24 123.15L449.99 124.9L448.24 126.65L446.49 124.9Z" fill="#37AD6B"/><path d="M448.24 125.35L449.99 127.1L448.24 128.85L446.49 127.1Z" fill="#37AD6B"/>
<path d="M452.57 52.4V69.8M452.57 86.7V108.3M451.52 52.4H453.62M451.52 108.3H453.62" stroke="#B177DE" stroke-width="0.88" fill="none"/><rect x="451.34" y="69.8" width="2.45" height="16.9" rx="0.6" fill="#B177DE" fill-opacity="0.3" stroke="#B177DE" stroke-width="1.05"/><path d="M451.34 78H453.8" stroke="#B177DE" stroke-width="0.8"/><path d="M452.57 111.15L454.32 112.9L452.57 114.65L450.82 112.9Z" fill="#B177DE"/><path d="M452.57 113.9L454.32 115.65L452.57 117.4L450.82 115.65Z" fill="#B177DE"/><path d="M452.57 116.65L454.32 118.4L452.57 120.15L450.82 118.4Z" fill="#B177DE"/>
<path d="M456.9 49.4V60.5M456.9 84.5V114M455.85 49.4H457.95M455.85 114H457.95" stroke="#CC9900" stroke-width="0.88" fill="none"/><rect x="455.67" y="60.5" width="2.45" height="24" rx="0.6" fill="#CC9900" fill-opacity="0.3" stroke="#CC9900" stroke-width="1.05"/><path d="M455.67 72H458.12" stroke="#CC9900" stroke-width="0.8"/><path d="M456.9 119.35L458.65 121.1L456.9 122.85L455.15 121.1Z" fill="#CC9900"/><path d="M456.9 121.55L458.65 123.3L456.9 125.05L455.15 123.3Z" fill="#CC9900"/><path d="M456.9 123.75L458.65 125.5L456.9 127.25L455.15 125.5Z" fill="#CC9900"/>
<path d="M461.23 52.4V64.9M461.23 83.5V107.5M460.18 52.4H462.28M460.18 107.5H462.28" stroke="#00CBCC" stroke-width="0.88" fill="none"/><rect x="460" y="64.9" width="2.45" height="18.6" rx="0.6" fill="#00CBCC" fill-opacity="0.3" stroke="#00CBCC" stroke-width="1.05"/><path d="M460 74H462.45" stroke="#00CBCC" stroke-width="0.8"/><path d="M461.23 110.05L462.98 111.8L461.23 113.55L459.48 111.8Z" fill="#00CBCC"/><path d="M461.23 112.05L462.98 113.8L461.23 115.55L459.48 113.8Z" fill="#00CBCC"/><path d="M461.23 114.05L462.98 115.8L461.23 117.55L459.48 115.8Z" fill="#00CBCC"/><path d="M461.23 116.05L462.98 117.8L461.23 119.55L459.48 117.8Z" fill="#00CBCC"/><path d="M461.23 118.75L462.98 120.5L461.23 122.25L459.48 120.5Z" fill="#00CBCC"/><path d="M461.23 120.95L462.98 122.7L461.23 124.45L459.48 122.7Z" fill="#00CBCC"/><path d="M461.23 123.15L462.98 124.9L461.23 126.65L459.48 124.9Z" fill="#00CBCC"/><path d="M461.23 125.35L462.98 127.1L461.23 128.85L459.48 127.1Z" fill="#00CBCC"/><path d="M461.23 127.55L462.98 129.3L461.23 131.05L459.48 129.3Z" fill="#00CBCC"/>
<path d="M465.56 49.4V61.4M465.56 84.5V118.4M464.51 49.4H466.61M464.51 118.4H466.61" stroke="#7D4E4E" stroke-width="0.88" fill="none"/><rect x="464.33" y="61.4" width="2.45" height="23.1" rx="0.6" fill="#7D4E4E" fill-opacity="0.3" stroke="#7D4E4E" stroke-width="1.05"/><path d="M464.33 73H466.79" stroke="#7D4E4E" stroke-width="0.8"/><path d="M465.56 119.65L467.31 121.4L465.56 123.15L463.81 121.4Z" fill="#7D4E4E"/><path d="M465.56 131.05L467.31 132.8L465.56 134.55L463.81 132.8Z" fill="#7D4E4E"/>
<path d="M469.89 53.5V64M469.89 85.1V109M468.84 53.5H470.94M468.84 109H470.94" stroke="#8E8E00" stroke-width="0.88" fill="none"/><rect x="468.66" y="64" width="2.45" height="21.1" rx="0.6" fill="#8E8E00" fill-opacity="0.3" stroke="#8E8E00" stroke-width="1.05"/><path d="M468.66 75H471.12" stroke="#8E8E00" stroke-width="0.8"/>
<path d="M474.22 52.7V67.1M474.22 81.8V100.9M473.17 52.7H475.27M473.17 100.9H475.27" stroke="#FB6501" stroke-width="0.88" fill="none"/><rect x="472.99" y="67.1" width="2.45" height="14.7" rx="0.6" fill="#FB6501" fill-opacity="0.3" stroke="#FB6501" stroke-width="1.05"/><path d="M472.99 74.5H475.44" stroke="#FB6501" stroke-width="0.8"/><path d="M474.22 104.05L475.97 105.8L474.22 107.55L472.47 105.8Z" fill="#FB6501"/><path d="M474.22 106.24L475.97 107.99L474.22 109.74L472.47 107.99Z" fill="#FB6501"/><path d="M474.22 108.42L475.97 110.17L474.22 111.92L472.47 110.17Z" fill="#FB6501"/><path d="M474.22 110.61L475.97 112.36L474.22 114.11L472.47 112.36Z" fill="#FB6501"/><path d="M474.22 112.79L475.97 114.54L474.22 116.29L472.47 114.54Z" fill="#FB6501"/><path d="M474.22 114.98L475.97 116.73L474.22 118.48L472.47 116.73Z" fill="#FB6501"/><path d="M474.22 117.16L475.97 118.91L474.22 120.66L472.47 118.91Z" fill="#FB6501"/><path d="M474.22 119.35L475.97 121.1L474.22 122.85L472.47 121.1Z" fill="#FB6501"/>
<path d="M478.55 52.7V63.3M478.55 78V100.4M477.5 52.7H479.6M477.5 100.4H479.6" stroke="#5A98D0" stroke-width="0.88" fill="none"/><rect x="477.32" y="63.3" width="2.45" height="14.7" rx="0.6" fill="#5A98D0" fill-opacity="0.3" stroke="#5A98D0" stroke-width="1.05"/><path d="M477.32 70.5H479.77" stroke="#5A98D0" stroke-width="0.8"/><path d="M478.55 99.25L480.3 101L478.55 102.75L476.8 101Z" fill="#5A98D0"/><path d="M478.55 101.34L480.3 103.09L478.55 104.84L476.8 103.09Z" fill="#5A98D0"/><path d="M478.55 103.42L480.3 105.17L478.55 106.92L476.8 105.17Z" fill="#5A98D0"/><path d="M478.55 105.51L480.3 107.26L478.55 109.01L476.8 107.26Z" fill="#5A98D0"/><path d="M478.55 107.59L480.3 109.34L478.55 111.09L476.8 109.34Z" fill="#5A98D0"/><path d="M478.55 109.68L480.3 111.43L478.55 113.18L476.8 111.43Z" fill="#5A98D0"/><path d="M478.55 111.76L480.3 113.51L478.55 115.26L476.8 113.51Z" fill="#5A98D0"/><path d="M478.55 113.85L480.3 115.6L478.55 117.35L476.8 115.6Z" fill="#5A98D0"/><path d="M478.55 117.95L480.3 119.7L478.55 121.45L476.8 119.7Z" fill="#5A98D0"/>
<path d="M494.65 38.2V61.1M494.65 77.5V97.6M493.6 38.2H495.7M493.6 97.6H495.7" stroke="#666666" stroke-width="0.88" fill="none"/><rect x="493.42" y="61.1" width="2.45" height="16.4" rx="0.6" fill="#666666" fill-opacity="0.3" stroke="#666666" stroke-width="1.05"/><path d="M493.42 70.4H495.88" stroke="#666666" stroke-width="0.8"/><path d="M494.65 107.75L496.4 109.5L494.65 111.25L492.9 109.5Z" fill="#666666"/><path d="M494.65 138.45L496.4 140.2L494.65 141.95L492.9 140.2Z" fill="#666666"/><path d="M494.65 141.15L496.4 142.9L494.65 144.65L492.9 142.9Z" fill="#666666"/>
<path d="M498.98 49.1V68.2M498.98 99.3V130.4M497.93 49.1H500.03M497.93 130.4H500.03" stroke="#F14040" stroke-width="0.88" fill="none"/><rect x="497.75" y="68.2" width="2.45" height="31.1" rx="0.6" fill="#F14040" fill-opacity="0.3" stroke="#F14040" stroke-width="1.05"/><path d="M497.75 79.1H500.2" stroke="#F14040" stroke-width="0.8"/>
<path d="M503.31 50.2V72M503.31 96.5V121.6M502.26 50.2H504.36M502.26 121.6H504.36" stroke="#1A6FDF" stroke-width="0.88" fill="none"/><rect x="502.08" y="72" width="2.45" height="24.5" rx="0.6" fill="#1A6FDF" fill-opacity="0.3" stroke="#1A6FDF" stroke-width="1.05"/><path d="M502.08 82.4H504.53" stroke="#1A6FDF" stroke-width="0.8"/><path d="M503.31 130.75L505.06 132.5L503.31 134.25L501.56 132.5Z" fill="#1A6FDF"/><path d="M503.31 133.25L505.06 135L503.31 136.75L501.56 135Z" fill="#1A6FDF"/><path d="M503.31 135.75L505.06 137.5L503.31 139.25L501.56 137.5Z" fill="#1A6FDF"/>
<path d="M507.64 39.3V61.9M507.64 93.3V134.2M506.59 39.3H508.69M506.59 134.2H508.69" stroke="#37AD6B" stroke-width="0.88" fill="none"/><rect x="506.41" y="61.9" width="2.45" height="31.4" rx="0.6" fill="#37AD6B" fill-opacity="0.3" stroke="#37AD6B" stroke-width="1.05"/><path d="M506.41 76.9H508.86" stroke="#37AD6B" stroke-width="0.8"/><path d="M507.64 143.05L509.39 144.8L507.64 146.55L505.89 144.8Z" fill="#37AD6B"/>
<path d="M511.97 40.4V65.5M511.97 91.1V128.7M510.92 40.4H513.02M510.92 128.7H513.02" stroke="#B177DE" stroke-width="0.88" fill="none"/><rect x="510.74" y="65.5" width="2.45" height="25.6" rx="0.6" fill="#B177DE" fill-opacity="0.3" stroke="#B177DE" stroke-width="1.05"/><path d="M510.74 76.4H513.19" stroke="#B177DE" stroke-width="0.8"/>
<path d="M516.3 45.5V67.1M516.3 95.2V121.4M515.25 45.5H517.35M515.25 121.4H517.35" stroke="#CC9900" stroke-width="0.88" fill="none"/><rect x="515.07" y="67.1" width="2.45" height="28.1" rx="0.6" fill="#CC9900" fill-opacity="0.3" stroke="#CC9900" stroke-width="1.05"/><path d="M515.07 76.4H517.52" stroke="#CC9900" stroke-width="0.8"/>
<path d="M520.63 40V62.2M520.63 92.2V127.3M519.58 40H521.68M519.58 127.3H521.68" stroke="#00CBCC" stroke-width="0.88" fill="none"/><rect x="519.4" y="62.2" width="2.45" height="30" rx="0.6" fill="#00CBCC" fill-opacity="0.3" stroke="#00CBCC" stroke-width="1.05"/><path d="M519.4 76.4H521.86" stroke="#00CBCC" stroke-width="0.8"/>
<path d="M524.96 40.9V67.1M524.96 90V122.2M523.91 40.9H526.01M523.91 122.2H526.01" stroke="#7D4E4E" stroke-width="0.88" fill="none"/><rect x="523.73" y="67.1" width="2.45" height="22.9" rx="0.6" fill="#7D4E4E" fill-opacity="0.3" stroke="#7D4E4E" stroke-width="1.05"/><path d="M523.73 75.8H526.18" stroke="#7D4E4E" stroke-width="0.8"/><path d="M524.96 122.05L526.71 123.8L524.96 125.55L523.21 123.8Z" fill="#7D4E4E"/><path d="M524.96 128.85L526.71 130.6L524.96 132.35L523.21 130.6Z" fill="#7D4E4E"/><path d="M524.96 131.85L526.71 133.6L524.96 135.35L523.21 133.6Z" fill="#7D4E4E"/><path d="M524.96 134.75L526.71 136.5L524.96 138.25L523.21 136.5Z" fill="#7D4E4E"/><path d="M524.96 138.45L526.71 140.2L524.96 141.95L523.21 140.2Z" fill="#7D4E4E"/>
<path d="M529.29 44.2V61.1M529.29 88.4V128.2M528.24 44.2H530.34M528.24 128.2H530.34" stroke="#8E8E00" stroke-width="0.88" fill="none"/><rect x="528.06" y="61.1" width="2.45" height="27.3" rx="0.6" fill="#8E8E00" fill-opacity="0.3" stroke="#8E8E00" stroke-width="1.05"/><path d="M528.06 76.9H530.51" stroke="#8E8E00" stroke-width="0.8"/><path d="M529.29 127.55L531.04 129.3L529.29 131.05L527.54 129.3Z" fill="#8E8E00"/>
<path d="M533.62 46.6V69.3M533.62 91.1V120.5M532.57 46.6H534.67M532.57 120.5H534.67" stroke="#FB6501" stroke-width="0.88" fill="none"/><rect x="532.39" y="69.3" width="2.45" height="21.8" rx="0.6" fill="#FB6501" fill-opacity="0.3" stroke="#FB6501" stroke-width="1.05"/><path d="M532.39 81.3H534.85" stroke="#FB6501" stroke-width="0.8"/><path d="M533.62 120.75L535.37 122.5L533.62 124.25L531.87 122.5Z" fill="#FB6501"/><path d="M533.62 134.05L535.37 135.8L533.62 137.55L531.87 135.8Z" fill="#FB6501"/><path d="M533.62 137.35L535.37 139.1L533.62 140.85L531.87 139.1Z" fill="#FB6501"/>
<path d="M537.95 43.3V66M537.95 94.4V129.3M536.9 43.3H539M536.9 129.3H539" stroke="#5A98D0" stroke-width="0.88" fill="none"/><rect x="536.72" y="66" width="2.45" height="28.4" rx="0.6" fill="#5A98D0" fill-opacity="0.3" stroke="#5A98D0" stroke-width="1.05"/><path d="M536.72 78H539.17" stroke="#5A98D0" stroke-width="0.8"/><path d="M537.95 138.65L539.7 140.4L537.95 142.15L536.2 140.4Z" fill="#5A98D0"/>
<rect x="308.6" y="14.25" width="237.6" height="191.15" fill="none" stroke="#262626" stroke-width="1.05"/>
<path d="M304.8 14.25H308.6M306.6 22.94H308.6M304.8 31.63H308.6M306.6 40.32H308.6M304.8 49H308.6M306.6 57.69H308.6M304.8 66.38H308.6M306.6 75.07H308.6M304.8 83.76H308.6M306.6 92.45H308.6M304.8 101.14H308.6M306.6 109.82H308.6M304.8 118.51H308.6M306.6 127.2H308.6M304.8 135.89H308.6M306.6 144.58H308.6M304.8 153.27H308.6M306.6 161.96H308.6M304.8 170.65H308.6M306.6 179.33H308.6M304.8 188.02H308.6M306.6 196.71H308.6M304.8 205.4H308.6M338.2 205.4V208.9M397.5 205.4V208.9M456.9 205.4V208.9M516.3 205.4V208.9" stroke="#262626" stroke-width="1" fill="none"/>
<text x="302" y="16.95" text-anchor="end" class="t" font-size="8" fill="#1a1a1a">1.0</text>
<text x="302" y="34.33" text-anchor="end" class="t" font-size="8" fill="#1a1a1a">0.8</text>
<text x="302" y="51.7" text-anchor="end" class="t" font-size="8" fill="#1a1a1a">0.6</text>
<text x="302" y="69.08" text-anchor="end" class="t" font-size="8" fill="#1a1a1a">0.4</text>
<text x="302" y="86.46" text-anchor="end" class="t" font-size="8" fill="#1a1a1a">0.2</text>
<text x="302" y="103.84" text-anchor="end" class="t" font-size="8" fill="#1a1a1a">0.0</text>
<text x="302" y="121.21" text-anchor="end" class="t" font-size="8" fill="#1a1a1a">−0.2</text>
<text x="302" y="138.59" text-anchor="end" class="t" font-size="8" fill="#1a1a1a">−0.4</text>
<text x="302" y="155.97" text-anchor="end" class="t" font-size="8" fill="#1a1a1a">−0.6</text>
<text x="302" y="173.35" text-anchor="end" class="t" font-size="8" fill="#1a1a1a">−0.8</text>
<text x="302" y="190.72" text-anchor="end" class="t" font-size="8" fill="#1a1a1a">−1.0</text>
<text x="302" y="208.1" text-anchor="end" class="t" font-size="8" fill="#1a1a1a">−1.2</text>
<text x="338.2" y="220.7" text-anchor="middle" class="t" font-size="8" fill="#1a1a1a">BRR</text>
<text x="397.5" y="220.7" text-anchor="middle" class="t" font-size="8" fill="#1a1a1a">DTR</text>
<text x="456.9" y="220.7" text-anchor="middle" class="t" font-size="8" fill="#1a1a1a">GBR</text>
<text x="516.3" y="220.7" text-anchor="middle" class="t" font-size="8" fill="#1a1a1a">XGBR</text>
<text x="428.8" y="10.35" text-anchor="middle" class="t" font-size="10" fill="#1a1a1a">TUB</text>
<text transform="translate(283.4 109.83) rotate(-90)" text-anchor="middle" class="t" font-size="10" fill="#1a1a1a">R<tspan font-size="5.6" dy="-3.9">2</tspan></text>
<text x="313.2" y="198.5" class="t" font-size="13.5" fill="#111">(b)</text>
<path d="M44.75 287.6V291.5M44.75 295.8V299.1M43.7 287.6H45.8M43.7 299.1H45.8" stroke="#666666" stroke-width="0.88" fill="none"/><rect x="43.53" y="291.5" width="2.45" height="4.3" rx="0.6" fill="#666666" fill-opacity="0.3" stroke="#666666" stroke-width="1.05"/><path d="M43.53 293.6H45.98" stroke="#666666" stroke-width="0.8"/><path d="M44.75 277.75L46.5 279.5L44.75 281.25L43 279.5Z" fill="#666666"/><path d="M44.75 280.28L46.5 282.03L44.75 283.78L43 282.03Z" fill="#666666"/><path d="M44.75 282.82L46.5 284.57L44.75 286.32L43 284.57Z" fill="#666666"/><path d="M44.75 285.35L46.5 287.1L44.75 288.85L43 287.1Z" fill="#666666"/><path d="M44.75 297.85L46.5 299.6L44.75 301.35L43 299.6Z" fill="#666666"/><path d="M44.75 300.05L46.5 301.8L44.75 303.55L43 301.8Z" fill="#666666"/><path d="M44.75 302.25L46.5 304L44.75 305.75L43 304Z" fill="#666666"/><path d="M44.75 304.45L46.5 306.2L44.75 307.95L43 306.2Z" fill="#666666"/>
<path d="M49.08 287.6V291.1M49.08 296.6V303.5M48.03 287.6H50.13M48.03 303.5H50.13" stroke="#F14040" stroke-width="0.88" fill="none"/><rect x="47.86" y="291.1" width="2.45" height="5.5" rx="0.6" fill="#F14040" fill-opacity="0.3" stroke="#F14040" stroke-width="1.05"/><path d="M47.86 293.8H50.31" stroke="#F14040" stroke-width="0.8"/><path d="M49.08 302.75L50.83 304.5L49.08 306.25L47.33 304.5Z" fill="#F14040"/><path d="M49.08 304.95L50.83 306.7L49.08 308.45L47.33 306.7Z" fill="#F14040"/><path d="M49.08 307.15L50.83 308.9L49.08 310.65L47.33 308.9Z" fill="#F14040"/>
<path d="M53.41 285.2V290.4M53.41 296.6V303.1M52.36 285.2H54.46M52.36 303.1H54.46" stroke="#1A6FDF" stroke-width="0.88" fill="none"/><rect x="52.19" y="290.4" width="2.45" height="6.2" rx="0.6" fill="#1A6FDF" fill-opacity="0.3" stroke="#1A6FDF" stroke-width="1.05"/><path d="M52.19 293.5H54.64" stroke="#1A6FDF" stroke-width="0.8"/>
<path d="M57.74 284.9V292.9M57.74 298.3V306.7M56.69 284.9H58.79M56.69 306.7H58.79" stroke="#37AD6B" stroke-width="0.88" fill="none"/><rect x="56.52" y="292.9" width="2.45" height="5.4" rx="0.6" fill="#37AD6B" fill-opacity="0.3" stroke="#37AD6B" stroke-width="1.05"/><path d="M56.52 295.6H58.97" stroke="#37AD6B" stroke-width="0.8"/><path d="M57.74 278.45L59.49 280.2L57.74 281.95L55.99 280.2Z" fill="#37AD6B"/><path d="M57.74 280.55L59.49 282.3L57.74 284.05L55.99 282.3Z" fill="#37AD6B"/><path d="M57.74 282.65L59.49 284.4L57.74 286.15L55.99 284.4Z" fill="#37AD6B"/><path d="M57.74 305.55L59.49 307.3L57.74 309.05L55.99 307.3Z" fill="#37AD6B"/><path d="M57.74 307.81L59.49 309.56L57.74 311.31L55.99 309.56Z" fill="#37AD6B"/><path d="M57.74 310.06L59.49 311.81L57.74 313.56L55.99 311.81Z" fill="#37AD6B"/><path d="M57.74 312.32L59.49 314.07L57.74 315.82L55.99 314.07Z" fill="#37AD6B"/><path d="M57.74 314.58L59.49 316.33L57.74 318.08L55.99 316.33Z" fill="#37AD6B"/><path d="M57.74 316.84L59.49 318.59L57.74 320.34L55.99 318.59Z" fill="#37AD6B"/><path d="M57.74 319.09L59.49 320.84L57.74 322.59L55.99 320.84Z" fill="#37AD6B"/><path d="M57.74 321.35L59.49 323.1L57.74 324.85L55.99 323.1Z" fill="#37AD6B"/><path d="M57.74 326.75L59.49 328.5L57.74 330.25L55.99 328.5Z" fill="#37AD6B"/><path d="M57.74 331.45L59.49 333.2L57.74 334.95L55.99 333.2Z" fill="#37AD6B"/><path d="M57.74 333.85L59.49 335.6L57.74 337.35L55.99 335.6Z" fill="#37AD6B"/>
<path d="M62.07 287.1V292.5M62.07 298V302.4M61.02 287.1H63.12M61.02 302.4H63.12" stroke="#B177DE" stroke-width="0.88" fill="none"/><rect x="60.85" y="292.5" width="2.45" height="5.5" rx="0.6" fill="#B177DE" fill-opacity="0.3" stroke="#B177DE" stroke-width="1.05"/><path d="M60.85 295.2H63.3" stroke="#B177DE" stroke-width="0.8"/>
<path d="M66.4 288.5V291.1M66.4 296.6V300.7M65.35 288.5H67.45M65.35 300.7H67.45" stroke="#CC9900" stroke-width="0.88" fill="none"/><rect x="65.18" y="291.1" width="2.45" height="5.5" rx="0.6" fill="#CC9900" fill-opacity="0.3" stroke="#CC9900" stroke-width="1.05"/><path d="M65.18 293.8H67.62" stroke="#CC9900" stroke-width="0.8"/><path d="M66.4 300.05L68.15 301.8L66.4 303.55L64.65 301.8Z" fill="#CC9900"/><path d="M66.4 302.38L68.15 304.12L66.4 305.88L64.65 304.12Z" fill="#CC9900"/><path d="M66.4 304.7L68.15 306.45L66.4 308.2L64.65 306.45Z" fill="#CC9900"/><path d="M66.4 307.03L68.15 308.78L66.4 310.53L64.65 308.78Z" fill="#CC9900"/><path d="M66.4 309.35L68.15 311.1L66.4 312.85L64.65 311.1Z" fill="#CC9900"/>
<path d="M70.73 287.1V291.1M70.73 296.1V299.6M69.68 287.1H71.78M69.68 299.6H71.78" stroke="#00CBCC" stroke-width="0.88" fill="none"/><rect x="69.51" y="291.1" width="2.45" height="5" rx="0.6" fill="#00CBCC" fill-opacity="0.3" stroke="#00CBCC" stroke-width="1.05"/><path d="M69.51 293.6H71.95" stroke="#00CBCC" stroke-width="0.8"/><path d="M70.73 282.05L72.48 283.8L70.73 285.55L68.98 283.8Z" fill="#00CBCC"/><path d="M70.73 298.45L72.48 300.2L70.73 301.95L68.98 300.2Z" fill="#00CBCC"/><path d="M70.73 300.62L72.48 302.37L70.73 304.12L68.98 302.37Z" fill="#00CBCC"/><path d="M70.73 302.78L72.48 304.53L70.73 306.28L68.98 304.53Z" fill="#00CBCC"/><path d="M70.73 304.95L72.48 306.7L70.73 308.45L68.98 306.7Z" fill="#00CBCC"/>
<path d="M75.06 287.6V290.9M75.06 295.5V299.6M74.01 287.6H76.11M74.01 299.6H76.11" stroke="#7D4E4E" stroke-width="0.88" fill="none"/><rect x="73.84" y="290.9" width="2.45" height="4.6" rx="0.6" fill="#7D4E4E" fill-opacity="0.3" stroke="#7D4E4E" stroke-width="1.05"/><path d="M73.84 293.2H76.28" stroke="#7D4E4E" stroke-width="0.8"/><path d="M75.06 282.65L76.81 284.4L75.06 286.15L73.31 284.4Z" fill="#7D4E4E"/><path d="M75.06 285.35L76.81 287.1L75.06 288.85L73.31 287.1Z" fill="#7D4E4E"/><path d="M75.06 298.45L76.81 300.2L75.06 301.95L73.31 300.2Z" fill="#7D4E4E"/><path d="M75.06 300.53L76.81 302.28L75.06 304.03L73.31 302.28Z" fill="#7D4E4E"/><path d="M75.06 302.62L76.81 304.37L75.06 306.12L73.31 304.37Z" fill="#7D4E4E"/><path d="M75.06 304.7L76.81 306.45L75.06 308.2L73.31 306.45Z" fill="#7D4E4E"/><path d="M75.06 306.78L76.81 308.53L75.06 310.28L73.31 308.53Z" fill="#7D4E4E"/><path d="M75.06 308.87L76.81 310.62L75.06 312.37L73.31 310.62Z" fill="#7D4E4E"/><path d="M75.06 310.95L76.81 312.7L75.06 314.45L73.31 312.7Z" fill="#7D4E4E"/>
<path d="M79.39 284.4V287.4M79.39 293.3V297.7M78.34 284.4H80.44M78.34 297.7H80.44" stroke="#8E8E00" stroke-width="0.88" fill="none"/><rect x="78.17" y="287.4" width="2.45" height="5.9" rx="0.6" fill="#8E8E00" fill-opacity="0.3" stroke="#8E8E00" stroke-width="1.05"/><path d="M78.17 290.3H80.61" stroke="#8E8E00" stroke-width="0.8"/>
<path d="M83.72 284.9V290.4M83.72 295.8V301.3M82.67 284.9H84.77M82.67 301.3H84.77" stroke="#FB6501" stroke-width="0.88" fill="none"/><rect x="82.5" y="290.4" width="2.45" height="5.4" rx="0.6" fill="#FB6501" fill-opacity="0.3" stroke="#FB6501" stroke-width="1.05"/><path d="M82.5 293.1H84.94" stroke="#FB6501" stroke-width="0.8"/>
<path d="M88.05 287.1V292.2M88.05 296.6V300.5M87 287.1H89.1M87 300.5H89.1" stroke="#5A98D0" stroke-width="0.88" fill="none"/><rect x="86.83" y="292.2" width="2.45" height="4.4" rx="0.6" fill="#5A98D0" fill-opacity="0.3" stroke="#5A98D0" stroke-width="1.05"/><path d="M86.83 294.4H89.28" stroke="#5A98D0" stroke-width="0.8"/>
<path d="M104.3 281.6V300.9M104.3 337.6V385.8M103.25 281.6H105.35M103.25 385.8H105.35" stroke="#666666" stroke-width="0.88" fill="none"/><rect x="103.08" y="300.9" width="2.45" height="36.7" rx="0.6" fill="#666666" fill-opacity="0.3" stroke="#666666" stroke-width="1.05"/><path d="M103.08 311.3H105.53" stroke="#666666" stroke-width="0.8"/>
<path d="M108.63 267.5V300.4M108.63 325.5V361.6M107.58 267.5H109.68M107.58 361.6H109.68" stroke="#F14040" stroke-width="0.88" fill="none"/><rect x="107.41" y="300.4" width="2.45" height="25.1" rx="0.6" fill="#F14040" fill-opacity="0.3" stroke="#F14040" stroke-width="1.05"/><path d="M107.41 310.2H109.85" stroke="#F14040" stroke-width="0.8"/><path d="M108.63 261.55L110.38 263.3L108.63 265.05L106.88 263.3Z" fill="#F14040"/><path d="M108.63 360.95L110.38 362.7L108.63 364.45L106.88 362.7Z" fill="#F14040"/><path d="M108.63 363.15L110.38 364.9L108.63 366.65L106.88 364.9Z" fill="#F14040"/><path d="M108.63 365.35L110.38 367.1L108.63 368.85L106.88 367.1Z" fill="#F14040"/><path d="M108.63 367.55L110.38 369.3L108.63 371.05L106.88 369.3Z" fill="#F14040"/><path d="M108.63 370.25L110.38 372L108.63 373.75L106.88 372Z" fill="#F14040"/><path d="M108.63 373.15L110.38 374.9L108.63 376.65L106.88 374.9Z" fill="#F14040"/>
<path d="M112.96 266.9V297.1M112.96 323.3V358.6M111.91 266.9H114.01M111.91 358.6H114.01" stroke="#1A6FDF" stroke-width="0.88" fill="none"/><rect x="111.74" y="297.1" width="2.45" height="26.2" rx="0.6" fill="#1A6FDF" fill-opacity="0.3" stroke="#1A6FDF" stroke-width="1.05"/><path d="M111.74 308.3H114.19" stroke="#1A6FDF" stroke-width="0.8"/><path d="M112.96 357.75L114.71 359.5L112.96 361.25L111.21 359.5Z" fill="#1A6FDF"/><path d="M112.96 359.85L114.71 361.6L112.96 363.35L111.21 361.6Z" fill="#1A6FDF"/><path d="M112.96 361.95L114.71 363.7L112.96 365.45L111.21 363.7Z" fill="#1A6FDF"/><path d="M112.96 364.05L114.71 365.8L112.96 367.55L111.21 365.8Z" fill="#1A6FDF"/><path d="M112.96 366.15L114.71 367.9L112.96 369.65L111.21 367.9Z" fill="#1A6FDF"/><path d="M112.96 368.25L114.71 370L112.96 371.75L111.21 370Z" fill="#1A6FDF"/><path d="M112.96 370.35L114.71 372.1L112.96 373.85L111.21 372.1Z" fill="#1A6FDF"/><path d="M112.96 372.45L114.71 374.2L112.96 375.95L111.21 374.2Z" fill="#1A6FDF"/>
<path d="M117.29 274.5V299.3M117.29 334.3V376.4M116.24 274.5H118.34M116.24 376.4H118.34" stroke="#37AD6B" stroke-width="0.88" fill="none"/><rect x="116.07" y="299.3" width="2.45" height="35" rx="0.6" fill="#37AD6B" fill-opacity="0.3" stroke="#37AD6B" stroke-width="1.05"/><path d="M116.07 313.5H118.52" stroke="#37AD6B" stroke-width="0.8"/><path d="M117.29 393.85L119.04 395.6L117.29 397.35L115.54 395.6Z" fill="#37AD6B"/>
<path d="M121.62 279.2V298.2M121.62 325.1V364M120.57 279.2H122.67M120.57 364H122.67" stroke="#B177DE" stroke-width="0.88" fill="none"/><rect x="120.4" y="298.2" width="2.45" height="26.9" rx="0.6" fill="#B177DE" fill-opacity="0.3" stroke="#B177DE" stroke-width="1.05"/><path d="M120.4 309.1H122.84" stroke="#B177DE" stroke-width="0.8"/><path d="M121.62 363.75L123.37 365.5L121.62 367.25L119.87 365.5Z" fill="#B177DE"/><path d="M121.62 365.92L123.37 367.67L121.62 369.42L119.87 367.67Z" fill="#B177DE"/><path d="M121.62 368.08L123.37 369.83L121.62 371.58L119.87 369.83Z" fill="#B177DE"/><path d="M121.62 370.25L123.37 372L121.62 373.75L119.87 372Z" fill="#B177DE"/>
<path d="M125.95 286.5V303.6M125.95 337.9V376.4M124.9 286.5H127M124.9 376.4H127" stroke="#CC9900" stroke-width="0.88" fill="none"/><rect x="124.73" y="303.6" width="2.45" height="34.3" rx="0.6" fill="#CC9900" fill-opacity="0.3" stroke="#CC9900" stroke-width="1.05"/><path d="M124.73 314.9H127.17" stroke="#CC9900" stroke-width="0.8"/><path d="M125.95 416.75L127.7 418.5L125.95 420.25L124.2 418.5Z" fill="#CC9900"/>
<path d="M130.28 277.1V301.8M130.28 339.3V379.3M129.23 277.1H131.33M129.23 379.3H131.33" stroke="#00CBCC" stroke-width="0.88" fill="none"/><rect x="129.06" y="301.8" width="2.45" height="37.5" rx="0.6" fill="#00CBCC" fill-opacity="0.3" stroke="#00CBCC" stroke-width="1.05"/><path d="M129.06 312.4H131.5" stroke="#00CBCC" stroke-width="0.8"/><path d="M130.28 408.65L132.03 410.4L130.28 412.15L128.53 410.4Z" fill="#00CBCC"/>
<path d="M134.61 282.2V302.9M134.61 336.5V380.4M133.56 282.2H135.66M133.56 380.4H135.66" stroke="#7D4E4E" stroke-width="0.88" fill="none"/><rect x="133.39" y="302.9" width="2.45" height="33.6" rx="0.6" fill="#7D4E4E" fill-opacity="0.3" stroke="#7D4E4E" stroke-width="1.05"/><path d="M133.39 312.4H135.84" stroke="#7D4E4E" stroke-width="0.8"/><path d="M134.61 414.95L136.36 416.7L134.61 418.45L132.86 416.7Z" fill="#7D4E4E"/>
<path d="M138.94 266.4V297.1M138.94 326.2V369.8M137.89 266.4H139.99M137.89 369.8H139.99" stroke="#8E8E00" stroke-width="0.88" fill="none"/><rect x="137.72" y="297.1" width="2.45" height="29.1" rx="0.6" fill="#8E8E00" fill-opacity="0.3" stroke="#8E8E00" stroke-width="1.05"/><path d="M137.72 308.8H140.16" stroke="#8E8E00" stroke-width="0.8"/><path d="M138.94 369.15L140.69 370.9L138.94 372.65L137.19 370.9Z" fill="#8E8E00"/><path d="M138.94 371.35L140.69 373.1L138.94 374.85L137.19 373.1Z" fill="#8E8E00"/>
<path d="M143.27 273.5V300.9M143.27 341.5V384.7M142.22 273.5H144.32M142.22 384.7H144.32" stroke="#FB6501" stroke-width="0.88" fill="none"/><rect x="142.05" y="300.9" width="2.45" height="40.6" rx="0.6" fill="#FB6501" fill-opacity="0.3" stroke="#FB6501" stroke-width="1.05"/><path d="M142.05 312.4H144.5" stroke="#FB6501" stroke-width="0.8"/>
<path d="M147.6 281.1V297.4M147.6 326.2V368.7M146.55 281.1H148.65M146.55 368.7H148.65" stroke="#5A98D0" stroke-width="0.88" fill="none"/><rect x="146.38" y="297.4" width="2.45" height="28.8" rx="0.6" fill="#5A98D0" fill-opacity="0.3" stroke="#5A98D0" stroke-width="1.05"/><path d="M146.38 309.1H148.82" stroke="#5A98D0" stroke-width="0.8"/><path d="M147.6 368.05L149.35 369.8L147.6 371.55L145.85 369.8Z" fill="#5A98D0"/><path d="M147.6 370.25L149.35 372L147.6 373.75L145.85 372Z" fill="#5A98D0"/><path d="M147.6 382.45L149.35 384.2L147.6 385.95L145.85 384.2Z" fill="#5A98D0"/>
<path d="M163.4 288.8V296.4M163.4 309.3V327.3M162.35 288.8H164.45M162.35 327.3H164.45" stroke="#666666" stroke-width="0.88" fill="none"/><rect x="162.18" y="296.4" width="2.45" height="12.9" rx="0.6" fill="#666666" fill-opacity="0.3" stroke="#666666" stroke-width="1.05"/><path d="M162.18 303H164.62" stroke="#666666" stroke-width="0.8"/><path d="M163.4 327.35L165.15 329.1L163.4 330.85L161.65 329.1Z" fill="#666666"/><path d="M163.4 333.45L165.15 335.2L163.4 336.95L161.65 335.2Z" fill="#666666"/>
<path d="M167.73 280.9V296.2M167.73 309.5V325.6M166.68 280.9H168.78M166.68 325.6H168.78" stroke="#F14040" stroke-width="0.88" fill="none"/><rect x="166.51" y="296.2" width="2.45" height="13.3" rx="0.6" fill="#F14040" fill-opacity="0.3" stroke="#F14040" stroke-width="1.05"/><path d="M166.51 303H168.96" stroke="#F14040" stroke-width="0.8"/><path d="M167.73 328.25L169.48 330L167.73 331.75L165.98 330Z" fill="#F14040"/>
<path d="M172.06 286.6V295.6M172.06 313.1V332.7M171.01 286.6H173.11M171.01 332.7H173.11" stroke="#1A6FDF" stroke-width="0.88" fill="none"/><rect x="170.84" y="295.6" width="2.45" height="17.5" rx="0.6" fill="#1A6FDF" fill-opacity="0.3" stroke="#1A6FDF" stroke-width="1.05"/><path d="M170.84 304H173.28" stroke="#1A6FDF" stroke-width="0.8"/>
<path d="M176.39 285.8V297.3M176.39 313.4V335.2M175.34 285.8H177.44M175.34 335.2H177.44" stroke="#37AD6B" stroke-width="0.88" fill="none"/><rect x="175.17" y="297.3" width="2.45" height="16.1" rx="0.6" fill="#37AD6B" fill-opacity="0.3" stroke="#37AD6B" stroke-width="1.05"/><path d="M175.17 305H177.62" stroke="#37AD6B" stroke-width="0.8"/><path d="M176.39 338.95L178.14 340.7L176.39 342.45L174.64 340.7Z" fill="#37AD6B"/>
<path d="M180.72 287.7V297.3M180.72 307.6V324.5M179.67 287.7H181.77M179.67 324.5H181.77" stroke="#B177DE" stroke-width="0.88" fill="none"/><rect x="179.5" y="297.3" width="2.45" height="10.3" rx="0.6" fill="#B177DE" fill-opacity="0.3" stroke="#B177DE" stroke-width="1.05"/><path d="M179.5 303H181.94" stroke="#B177DE" stroke-width="0.8"/><path d="M180.72 324.15L182.47 325.9L180.72 327.65L178.97 325.9Z" fill="#B177DE"/>
<path d="M185.05 286.1V298.1M185.05 314.2V337.6M184 286.1H186.1M184 337.6H186.1" stroke="#CC9900" stroke-width="0.88" fill="none"/><rect x="183.83" y="298.1" width="2.45" height="16.1" rx="0.6" fill="#CC9900" fill-opacity="0.3" stroke="#CC9900" stroke-width="1.05"/><path d="M183.83 306H186.28" stroke="#CC9900" stroke-width="0.8"/><path d="M185.05 339.35L186.8 341.1L185.05 342.85L183.3 341.1Z" fill="#CC9900"/>
<path d="M189.38 287.2V297.3M189.38 314.2V332M188.33 287.2H190.43M188.33 332H190.43" stroke="#00CBCC" stroke-width="0.88" fill="none"/><rect x="188.16" y="297.3" width="2.45" height="16.9" rx="0.6" fill="#00CBCC" fill-opacity="0.3" stroke="#00CBCC" stroke-width="1.05"/><path d="M188.16 305.5H190.61" stroke="#00CBCC" stroke-width="0.8"/><path d="M189.38 339.15L191.13 340.9L189.38 342.65L187.63 340.9Z" fill="#00CBCC"/>
<path d="M193.71 284.4V297.3M193.71 312V334.6M192.66 284.4H194.76M192.66 334.6H194.76" stroke="#7D4E4E" stroke-width="0.88" fill="none"/><rect x="192.49" y="297.3" width="2.45" height="14.7" rx="0.6" fill="#7D4E4E" fill-opacity="0.3" stroke="#7D4E4E" stroke-width="1.05"/><path d="M192.49 304.5H194.94" stroke="#7D4E4E" stroke-width="0.8"/><path d="M193.71 338.65L195.46 340.4L193.71 342.15L191.96 340.4Z" fill="#7D4E4E"/><path d="M193.71 340.25L195.46 342L193.71 343.75L191.96 342Z" fill="#7D4E4E"/>
<path d="M198.04 279.8V293.5M198.04 309.5V322.1M196.99 279.8H199.09M196.99 322.1H199.09" stroke="#8E8E00" stroke-width="0.88" fill="none"/><rect x="196.82" y="293.5" width="2.45" height="16" rx="0.6" fill="#8E8E00" fill-opacity="0.3" stroke="#8E8E00" stroke-width="1.05"/><path d="M196.82 301.5H199.27" stroke="#8E8E00" stroke-width="0.8"/>
<path d="M202.37 288.8V298.4M202.37 313.4V332.7M201.32 288.8H203.42M201.32 332.7H203.42" stroke="#FB6501" stroke-width="0.88" fill="none"/><rect x="201.15" y="298.4" width="2.45" height="15" rx="0.6" fill="#FB6501" fill-opacity="0.3" stroke="#FB6501" stroke-width="1.05"/><path d="M201.15 306H203.59" stroke="#FB6501" stroke-width="0.8"/><path d="M202.37 334.25L204.12 336L202.37 337.75L200.62 336Z" fill="#FB6501"/><path d="M202.37 336.95L204.12 338.7L202.37 340.45L200.62 338.7Z" fill="#FB6501"/><path d="M202.37 341.35L204.12 343.1L202.37 344.85L200.62 343.1Z" fill="#FB6501"/>
<path d="M206.7 287.2V297.5M206.7 308.2V324.8M205.65 287.2H207.75M205.65 324.8H207.75" stroke="#5A98D0" stroke-width="0.88" fill="none"/><rect x="205.48" y="297.5" width="2.45" height="10.7" rx="0.6" fill="#5A98D0" fill-opacity="0.3" stroke="#5A98D0" stroke-width="1.05"/><path d="M205.48 303H207.93" stroke="#5A98D0" stroke-width="0.8"/><path d="M206.7 324.15L208.45 325.9L206.7 327.65L204.95 325.9Z" fill="#5A98D0"/><path d="M206.7 328.45L208.45 330.2L206.7 331.95L204.95 330.2Z" fill="#5A98D0"/>
<path d="M223 286.5V299.6M223 312.2V330.7M221.95 286.5H224.05M221.95 330.7H224.05" stroke="#666666" stroke-width="0.88" fill="none"/><rect x="221.78" y="299.6" width="2.45" height="12.6" rx="0.6" fill="#666666" fill-opacity="0.3" stroke="#666666" stroke-width="1.05"/><path d="M221.78 306H224.22" stroke="#666666" stroke-width="0.8"/><path d="M223 330.65L224.75 332.4L223 334.15L221.25 332.4Z" fill="#666666"/><path d="M223 332.82L224.75 334.57L223 336.32L221.25 334.57Z" fill="#666666"/><path d="M223 335L224.75 336.75L223 338.5L221.25 336.75Z" fill="#666666"/><path d="M223 337.18L224.75 338.93L223 340.68L221.25 338.93Z" fill="#666666"/><path d="M223 339.35L224.75 341.1L223 342.85L221.25 341.1Z" fill="#666666"/><path d="M223 347.35L224.75 349.1L223 350.85L221.25 349.1Z" fill="#666666"/>
<path d="M227.33 283.3V302.1M227.33 312.7V323.6M226.28 283.3H228.38M226.28 323.6H228.38" stroke="#F14040" stroke-width="0.88" fill="none"/><rect x="226.11" y="302.1" width="2.45" height="10.6" rx="0.6" fill="#F14040" fill-opacity="0.3" stroke="#F14040" stroke-width="1.05"/><path d="M226.11 307.5H228.56" stroke="#F14040" stroke-width="0.8"/><path d="M227.33 280.95L229.08 282.7L227.33 284.45L225.58 282.7Z" fill="#F14040"/><path d="M227.33 328.75L229.08 330.5L227.33 332.25L225.58 330.5Z" fill="#F14040"/><path d="M227.33 331.3L229.08 333.05L227.33 334.8L225.58 333.05Z" fill="#F14040"/><path d="M227.33 333.85L229.08 335.6L227.33 337.35L225.58 335.6Z" fill="#F14040"/><path d="M227.33 338.25L229.08 340L227.33 341.75L225.58 340Z" fill="#F14040"/><path d="M227.33 340.45L229.08 342.2L227.33 343.95L225.58 342.2Z" fill="#F14040"/><path d="M227.33 345.35L229.08 347.1L227.33 348.85L225.58 347.1Z" fill="#F14040"/>
<path d="M231.66 272.7V296.4M231.66 316V334.5M230.61 272.7H232.71M230.61 334.5H232.71" stroke="#1A6FDF" stroke-width="0.88" fill="none"/><rect x="230.44" y="296.4" width="2.45" height="19.6" rx="0.6" fill="#1A6FDF" fill-opacity="0.3" stroke="#1A6FDF" stroke-width="1.05"/><path d="M230.44 306H232.88" stroke="#1A6FDF" stroke-width="0.8"/>
<path d="M235.99 279.5V298.5M235.99 311.6V327.2M234.94 279.5H237.04M234.94 327.2H237.04" stroke="#37AD6B" stroke-width="0.88" fill="none"/><rect x="234.77" y="298.5" width="2.45" height="13.1" rx="0.6" fill="#37AD6B" fill-opacity="0.3" stroke="#37AD6B" stroke-width="1.05"/><path d="M234.77 305H237.22" stroke="#37AD6B" stroke-width="0.8"/><path d="M235.99 328.95L237.74 330.7L235.99 332.45L234.24 330.7Z" fill="#37AD6B"/><path d="M235.99 331.15L237.74 332.9L235.99 334.65L234.24 332.9Z" fill="#37AD6B"/><path d="M235.99 333.35L237.74 335.1L235.99 336.85L234.24 335.1Z" fill="#37AD6B"/><path d="M235.99 340.15L237.74 341.9L235.99 343.65L234.24 341.9Z" fill="#37AD6B"/>
<path d="M240.32 288.2V302.1M240.32 315.5V333.1M239.27 288.2H241.37M239.27 333.1H241.37" stroke="#B177DE" stroke-width="0.88" fill="none"/><rect x="239.09" y="302.1" width="2.45" height="13.4" rx="0.6" fill="#B177DE" fill-opacity="0.3" stroke="#B177DE" stroke-width="1.05"/><path d="M239.09 309H241.54" stroke="#B177DE" stroke-width="0.8"/><path d="M240.32 334.45L242.07 336.2L240.32 337.95L238.57 336.2Z" fill="#B177DE"/>
<path d="M244.65 286.5V299.6M244.65 311.3V326.6M243.6 286.5H245.7M243.6 326.6H245.7" stroke="#CC9900" stroke-width="0.88" fill="none"/><rect x="243.43" y="299.6" width="2.45" height="11.7" rx="0.6" fill="#CC9900" fill-opacity="0.3" stroke="#CC9900" stroke-width="1.05"/><path d="M243.43 305.5H245.88" stroke="#CC9900" stroke-width="0.8"/><path d="M244.65 328.75L246.4 330.5L244.65 332.25L242.9 330.5Z" fill="#CC9900"/>
<path d="M248.98 286.5V300.2M248.98 312.2V328M247.93 286.5H250.03M247.93 328H250.03" stroke="#00CBCC" stroke-width="0.88" fill="none"/><rect x="247.76" y="300.2" width="2.45" height="12" rx="0.6" fill="#00CBCC" fill-opacity="0.3" stroke="#00CBCC" stroke-width="1.05"/><path d="M247.76 306H250.21" stroke="#00CBCC" stroke-width="0.8"/><path d="M248.98 327.25L250.73 329L248.98 330.75L247.23 329Z" fill="#00CBCC"/><path d="M248.98 330L250.73 331.75L248.98 333.5L247.23 331.75Z" fill="#00CBCC"/><path d="M248.98 332.75L250.73 334.5L248.98 336.25L247.23 334.5Z" fill="#00CBCC"/><path d="M248.98 336.65L250.73 338.4L248.98 340.15L247.23 338.4Z" fill="#00CBCC"/><path d="M248.98 342.25L250.73 344L248.98 345.75L247.23 344Z" fill="#00CBCC"/>
<path d="M253.31 282.9V298.5M253.31 314.4V336.2M252.26 282.9H254.36M252.26 336.2H254.36" stroke="#7D4E4E" stroke-width="0.88" fill="none"/><rect x="252.09" y="298.5" width="2.45" height="15.9" rx="0.6" fill="#7D4E4E" fill-opacity="0.3" stroke="#7D4E4E" stroke-width="1.05"/><path d="M252.09 306.5H254.53" stroke="#7D4E4E" stroke-width="0.8"/><path d="M253.31 335.55L255.06 337.3L253.31 339.05L251.56 337.3Z" fill="#7D4E4E"/><path d="M253.31 341.55L255.06 343.3L253.31 345.05L251.56 343.3Z" fill="#7D4E4E"/><path d="M253.31 344L255.06 345.75L253.31 347.5L251.56 345.75Z" fill="#7D4E4E"/><path d="M253.31 346.45L255.06 348.2L253.31 349.95L251.56 348.2Z" fill="#7D4E4E"/>
<path d="M257.64 284.9V295.3M257.64 307.8V325.3M256.59 284.9H258.69M256.59 325.3H258.69" stroke="#8E8E00" stroke-width="0.88" fill="none"/><rect x="256.41" y="295.3" width="2.45" height="12.5" rx="0.6" fill="#8E8E00" fill-opacity="0.3" stroke="#8E8E00" stroke-width="1.05"/><path d="M256.41 301.5H258.87" stroke="#8E8E00" stroke-width="0.8"/><path d="M257.64 330.95L259.39 332.7L257.64 334.45L255.89 332.7Z" fill="#8E8E00"/><path d="M257.64 333.85L259.39 335.6L257.64 337.35L255.89 335.6Z" fill="#8E8E00"/>
<path d="M261.97 283.3V301.3M261.97 313.3V330.7M260.92 283.3H263.02M260.92 330.7H263.02" stroke="#FB6501" stroke-width="0.88" fill="none"/><rect x="260.75" y="301.3" width="2.45" height="12" rx="0.6" fill="#FB6501" fill-opacity="0.3" stroke="#FB6501" stroke-width="1.05"/><path d="M260.75 307H263.2" stroke="#FB6501" stroke-width="0.8"/><path d="M261.97 280.45L263.72 282.2L261.97 283.95L260.22 282.2Z" fill="#FB6501"/><path d="M261.97 330.95L263.72 332.7L261.97 334.45L260.22 332.7Z" fill="#FB6501"/><path d="M261.97 334.55L263.72 336.3L261.97 338.05L260.22 336.3Z" fill="#FB6501"/><path d="M261.97 343.15L263.72 344.9L261.97 346.65L260.22 344.9Z" fill="#FB6501"/>
<path d="M266.3 288V299.6M266.3 311.6V328.5M265.25 288H267.35M265.25 328.5H267.35" stroke="#5A98D0" stroke-width="0.88" fill="none"/><rect x="265.07" y="299.6" width="2.45" height="12" rx="0.6" fill="#5A98D0" fill-opacity="0.3" stroke="#5A98D0" stroke-width="1.05"/><path d="M265.07 305.5H267.53" stroke="#5A98D0" stroke-width="0.8"/><path d="M266.3 327.85L268.05 329.6L266.3 331.35L264.55 329.6Z" fill="#5A98D0"/><path d="M266.3 330.6L268.05 332.35L266.3 334.1L264.55 332.35Z" fill="#5A98D0"/><path d="M266.3 333.35L268.05 335.1L266.3 336.85L264.55 335.1Z" fill="#5A98D0"/><path d="M266.3 336.65L268.05 338.4L266.3 340.15L264.55 338.4Z" fill="#5A98D0"/><path d="M266.3 344.25L268.05 346L266.3 347.75L264.55 346Z" fill="#5A98D0"/>
<rect x="36.9" y="237" width="237.7" height="191.3" fill="none" stroke="#262626" stroke-width="1.05"/>
<path d="M33.1 237H36.9M34.9 245.7H36.9M33.1 254.39H36.9M34.9 263.09H36.9M33.1 271.78H36.9M34.9 280.48H36.9M33.1 289.17H36.9M34.9 297.87H36.9M33.1 306.56H36.9M34.9 315.26H36.9M33.1 323.95H36.9M34.9 332.65H36.9M33.1 341.35H36.9M34.9 350.04H36.9M33.1 358.74H36.9M34.9 367.43H36.9M33.1 376.13H36.9M34.9 384.82H36.9M33.1 393.52H36.9M34.9 402.21H36.9M33.1 410.91H36.9M34.9 419.6H36.9M33.1 428.3H36.9M66.4 428.3V431.8M125.95 428.3V431.8M185.05 428.3V431.8M244.65 428.3V431.8" stroke="#262626" stroke-width="1" fill="none"/>
<text x="30.3" y="239.7" text-anchor="end" class="t" font-size="8" fill="#1a1a1a">1.0</text>
<text x="30.3" y="257.09" text-anchor="end" class="t" font-size="8" fill="#1a1a1a">0.8</text>
<text x="30.3" y="274.48" text-anchor="end" class="t" font-size="8" fill="#1a1a1a">0.6</text>
<text x="30.3" y="291.87" text-anchor="end" class="t" font-size="8" fill="#1a1a1a">0.4</text>
<text x="30.3" y="309.26" text-anchor="end" class="t" font-size="8" fill="#1a1a1a">0.2</text>
<text x="30.3" y="326.65" text-anchor="end" class="t" font-size="8" fill="#1a1a1a">0.0</text>
<text x="30.3" y="344.05" text-anchor="end" class="t" font-size="8" fill="#1a1a1a">−0.2</text>
<text x="30.3" y="361.44" text-anchor="end" class="t" font-size="8" fill="#1a1a1a">−0.4</text>
<text x="30.3" y="378.83" text-anchor="end" class="t" font-size="8" fill="#1a1a1a">−0.6</text>
<text x="30.3" y="396.22" text-anchor="end" class="t" font-size="8" fill="#1a1a1a">−0.8</text>
<text x="30.3" y="413.61" text-anchor="end" class="t" font-size="8" fill="#1a1a1a">−1.0</text>
<text x="30.3" y="431" text-anchor="end" class="t" font-size="8" fill="#1a1a1a">−1.2</text>
<text x="66.4" y="443.6" text-anchor="middle" class="t" font-size="8" fill="#1a1a1a">BRR</text>
<text x="125.95" y="443.6" text-anchor="middle" class="t" font-size="8" fill="#1a1a1a">DTR</text>
<text x="185.05" y="443.6" text-anchor="middle" class="t" font-size="8" fill="#1a1a1a">GBR</text>
<text x="244.65" y="443.6" text-anchor="middle" class="t" font-size="8" fill="#1a1a1a">XGBR</text>
<text x="153.3" y="233.1" text-anchor="middle" class="t" font-size="10" fill="#1a1a1a">TP</text>
<text transform="translate(11.7 332.65) rotate(-90)" text-anchor="middle" class="t" font-size="10" fill="#1a1a1a">R<tspan font-size="5.6" dy="-3.9">2</tspan></text>
<text x="41.5" y="421.4" class="t" font-size="13.5" fill="#111">(c)</text>
<path d="M316.55 243.5V248.4M316.55 254.1V258.7M315.5 243.5H317.6M315.5 258.7H317.6" stroke="#666666" stroke-width="0.88" fill="none"/><rect x="315.32" y="248.4" width="2.45" height="5.7" rx="0.6" fill="#666666" fill-opacity="0.3" stroke="#666666" stroke-width="1.05"/><path d="M315.32 251.2H317.78" stroke="#666666" stroke-width="0.8"/>
<path d="M320.88 243.2V247.6M320.88 255.5V265.3M319.83 243.2H321.93M319.83 265.3H321.93" stroke="#F14040" stroke-width="0.88" fill="none"/><rect x="319.65" y="247.6" width="2.45" height="7.9" rx="0.6" fill="#F14040" fill-opacity="0.3" stroke="#F14040" stroke-width="1.05"/><path d="M319.65 251.5H322.11" stroke="#F14040" stroke-width="0.8"/><path d="M320.88 265.15L322.63 266.9L320.88 268.65L319.13 266.9Z" fill="#F14040"/>
<path d="M325.21 245.6V248M325.21 256V266.6M324.16 245.6H326.26M324.16 266.6H326.26" stroke="#1A6FDF" stroke-width="0.88" fill="none"/><rect x="323.98" y="248" width="2.45" height="8" rx="0.6" fill="#1A6FDF" fill-opacity="0.3" stroke="#1A6FDF" stroke-width="1.05"/><path d="M323.98 252H326.44" stroke="#1A6FDF" stroke-width="0.8"/>
<path d="M329.54 244.5V251.1M329.54 260.4V273.3M328.49 244.5H330.59M328.49 273.3H330.59" stroke="#37AD6B" stroke-width="0.88" fill="none"/><rect x="328.31" y="251.1" width="2.45" height="9.3" rx="0.6" fill="#37AD6B" fill-opacity="0.3" stroke="#37AD6B" stroke-width="1.05"/><path d="M328.31 255.7H330.76" stroke="#37AD6B" stroke-width="0.8"/><path d="M329.54 272.05L331.29 273.8L329.54 275.55L327.79 273.8Z" fill="#37AD6B"/><path d="M329.54 274.23L331.29 275.98L329.54 277.73L327.79 275.98Z" fill="#37AD6B"/><path d="M329.54 276.42L331.29 278.17L329.54 279.92L327.79 278.17Z" fill="#37AD6B"/><path d="M329.54 278.6L331.29 280.35L329.54 282.1L327.79 280.35Z" fill="#37AD6B"/><path d="M329.54 280.78L331.29 282.53L329.54 284.28L327.79 282.53Z" fill="#37AD6B"/><path d="M329.54 282.97L331.29 284.72L329.54 286.47L327.79 284.72Z" fill="#37AD6B"/><path d="M329.54 285.15L331.29 286.9L329.54 288.65L327.79 286.9Z" fill="#37AD6B"/><path d="M329.54 288.95L331.29 290.7L329.54 292.45L327.79 290.7Z" fill="#37AD6B"/>
<path d="M333.87 245.6V247.8M333.87 256.3V261.1M332.82 245.6H334.92M332.82 261.1H334.92" stroke="#B177DE" stroke-width="0.88" fill="none"/><rect x="332.64" y="247.8" width="2.45" height="8.5" rx="0.6" fill="#B177DE" fill-opacity="0.3" stroke="#B177DE" stroke-width="1.05"/><path d="M332.64 252H335.1" stroke="#B177DE" stroke-width="0.8"/>
<path d="M338.2 242.6V247.8M338.2 257.4V267.2M337.15 242.6H339.25M337.15 267.2H339.25" stroke="#CC9900" stroke-width="0.88" fill="none"/><rect x="336.97" y="247.8" width="2.45" height="9.6" rx="0.6" fill="#CC9900" fill-opacity="0.3" stroke="#CC9900" stroke-width="1.05"/><path d="M336.97 252.6H339.43" stroke="#CC9900" stroke-width="0.8"/>
<path d="M342.53 244.3V251.1M342.53 258.2V267.2M341.48 244.3H343.58M341.48 267.2H343.58" stroke="#00CBCC" stroke-width="0.88" fill="none"/><rect x="341.3" y="251.1" width="2.45" height="7.1" rx="0.6" fill="#00CBCC" fill-opacity="0.3" stroke="#00CBCC" stroke-width="1.05"/><path d="M341.3 254.6H343.75" stroke="#00CBCC" stroke-width="0.8"/><path d="M342.53 268.95L344.28 270.7L342.53 272.45L340.78 270.7Z" fill="#00CBCC"/><path d="M342.53 270.85L344.28 272.6L342.53 274.35L340.78 272.6Z" fill="#00CBCC"/><path d="M342.53 272.75L344.28 274.5L342.53 276.25L340.78 274.5Z" fill="#00CBCC"/><path d="M342.53 281.35L344.28 283.1L342.53 284.85L340.78 283.1Z" fill="#00CBCC"/><path d="M342.53 299.65L344.28 301.4L342.53 303.15L340.78 301.4Z" fill="#00CBCC"/>
<path d="M346.86 242.6V248.4M346.86 256.5V265.3M345.81 242.6H347.91M345.81 265.3H347.91" stroke="#7D4E4E" stroke-width="0.88" fill="none"/><rect x="345.63" y="248.4" width="2.45" height="8.1" rx="0.6" fill="#7D4E4E" fill-opacity="0.3" stroke="#7D4E4E" stroke-width="1.05"/><path d="M345.63 252.4H348.09" stroke="#7D4E4E" stroke-width="0.8"/><path d="M346.86 268.45L348.61 270.2L346.86 271.95L345.11 270.2Z" fill="#7D4E4E"/>
<path d="M351.19 245.1V248.9M351.19 260.4V272.7M350.14 245.1H352.24M350.14 272.7H352.24" stroke="#8E8E00" stroke-width="0.88" fill="none"/><rect x="349.96" y="248.9" width="2.45" height="11.5" rx="0.6" fill="#8E8E00" fill-opacity="0.3" stroke="#8E8E00" stroke-width="1.05"/><path d="M349.96 254.6H352.42" stroke="#8E8E00" stroke-width="0.8"/>
<path d="M355.52 243.2V248M355.52 255.7V263.3M354.47 243.2H356.57M354.47 263.3H356.57" stroke="#FB6501" stroke-width="0.88" fill="none"/><rect x="354.29" y="248" width="2.45" height="7.7" rx="0.6" fill="#FB6501" fill-opacity="0.3" stroke="#FB6501" stroke-width="1.05"/><path d="M354.29 251.8H356.75" stroke="#FB6501" stroke-width="0.8"/>
<path d="M359.85 244.8V247.6M359.85 255.5V261.1M358.8 244.8H360.9M358.8 261.1H360.9" stroke="#5A98D0" stroke-width="0.88" fill="none"/><rect x="358.62" y="247.6" width="2.45" height="7.9" rx="0.6" fill="#5A98D0" fill-opacity="0.3" stroke="#5A98D0" stroke-width="1.05"/><path d="M358.62 251.5H361.07" stroke="#5A98D0" stroke-width="0.8"/>
<path d="M375.85 250.2V273.6M375.85 309.1V362.3M374.8 250.2H376.9M374.8 362.3H376.9" stroke="#666666" stroke-width="0.88" fill="none"/><rect x="374.62" y="273.6" width="2.45" height="35.5" rx="0.6" fill="#666666" fill-opacity="0.3" stroke="#666666" stroke-width="1.05"/><path d="M374.62 292.2H377.08" stroke="#666666" stroke-width="0.8"/><path d="M375.85 376.35L377.6 378.1L375.85 379.85L374.1 378.1Z" fill="#666666"/><path d="M375.85 418.85L377.6 420.6L375.85 422.35L374.1 420.6Z" fill="#666666"/>
<path d="M380.18 243.6V271.5M380.18 327.1V404M379.13 243.6H381.23M379.13 404H381.23" stroke="#F14040" stroke-width="0.88" fill="none"/><rect x="378.95" y="271.5" width="2.45" height="55.6" rx="0.6" fill="#F14040" fill-opacity="0.3" stroke="#F14040" stroke-width="1.05"/><path d="M378.95 295.2H381.41" stroke="#F14040" stroke-width="0.8"/><path d="M380.18 418.35L381.93 420.1L380.18 421.85L378.43 420.1Z" fill="#F14040"/>
<path d="M384.51 244.5V272.2M384.51 322.5V397.1M383.46 244.5H385.56M383.46 397.1H385.56" stroke="#1A6FDF" stroke-width="0.88" fill="none"/><rect x="383.28" y="272.2" width="2.45" height="50.3" rx="0.6" fill="#1A6FDF" fill-opacity="0.3" stroke="#1A6FDF" stroke-width="1.05"/><path d="M383.28 298.2H385.74" stroke="#1A6FDF" stroke-width="0.8"/><path d="M384.51 402.05L386.26 403.8L384.51 405.55L382.76 403.8Z" fill="#1A6FDF"/><path d="M384.51 411.15L386.26 412.9L384.51 414.65L382.76 412.9Z" fill="#1A6FDF"/>
<path d="M388.84 246.4V263.3M388.84 306.9V370.5M387.79 246.4H389.89M387.79 370.5H389.89" stroke="#37AD6B" stroke-width="0.88" fill="none"/><rect x="387.61" y="263.3" width="2.45" height="43.6" rx="0.6" fill="#37AD6B" fill-opacity="0.3" stroke="#37AD6B" stroke-width="1.05"/><path d="M387.61 286.5H390.06" stroke="#37AD6B" stroke-width="0.8"/><path d="M388.84 374.45L390.59 376.2L388.84 377.95L387.09 376.2Z" fill="#37AD6B"/><path d="M388.84 376.53L390.59 378.28L388.84 380.03L387.09 378.28Z" fill="#37AD6B"/><path d="M388.84 378.62L390.59 380.37L388.84 382.12L387.09 380.37Z" fill="#37AD6B"/><path d="M388.84 380.7L390.59 382.45L388.84 384.2L387.09 382.45Z" fill="#37AD6B"/><path d="M388.84 382.78L390.59 384.53L388.84 386.28L387.09 384.53Z" fill="#37AD6B"/><path d="M388.84 384.87L390.59 386.62L388.84 388.37L387.09 386.62Z" fill="#37AD6B"/><path d="M388.84 386.95L390.59 388.7L388.84 390.45L387.09 388.7Z" fill="#37AD6B"/><path d="M388.84 401.45L390.59 403.2L388.84 404.95L387.09 403.2Z" fill="#37AD6B"/>
<path d="M393.17 248.5V264.9M393.17 312.9V369.1M392.12 248.5H394.22M392.12 369.1H394.22" stroke="#B177DE" stroke-width="0.88" fill="none"/><rect x="391.94" y="264.9" width="2.45" height="48" rx="0.6" fill="#B177DE" fill-opacity="0.3" stroke="#B177DE" stroke-width="1.05"/><path d="M391.94 291.6H394.4" stroke="#B177DE" stroke-width="0.8"/>
<path d="M397.5 245.8V271.1M397.5 322.4V386.2M396.45 245.8H398.55M396.45 386.2H398.55" stroke="#CC9900" stroke-width="0.88" fill="none"/><rect x="396.27" y="271.1" width="2.45" height="51.3" rx="0.6" fill="#CC9900" fill-opacity="0.3" stroke="#CC9900" stroke-width="1.05"/><path d="M396.27 295.5H398.73" stroke="#CC9900" stroke-width="0.8"/><path d="M397.5 410.15L399.25 411.9L397.5 413.65L395.75 411.9Z" fill="#CC9900"/>
<path d="M401.83 247.1V268.2M401.83 316.2V386.5M400.78 247.1H402.88M400.78 386.5H402.88" stroke="#00CBCC" stroke-width="0.88" fill="none"/><rect x="400.6" y="268.2" width="2.45" height="48" rx="0.6" fill="#00CBCC" fill-opacity="0.3" stroke="#00CBCC" stroke-width="1.05"/><path d="M400.6 295.5H403.06" stroke="#00CBCC" stroke-width="0.8"/><path d="M401.83 390.65L403.58 392.4L401.83 394.15L400.08 392.4Z" fill="#00CBCC"/><path d="M401.83 405.55L403.58 407.3L401.83 409.05L400.08 407.3Z" fill="#00CBCC"/>
<path d="M406.16 245.6V272.5M406.16 318.1V386.9M405.11 245.6H407.21M405.11 386.9H407.21" stroke="#7D4E4E" stroke-width="0.88" fill="none"/><rect x="404.94" y="272.5" width="2.45" height="45.6" rx="0.6" fill="#7D4E4E" fill-opacity="0.3" stroke="#7D4E4E" stroke-width="1.05"/><path d="M404.94 294.6H407.39" stroke="#7D4E4E" stroke-width="0.8"/><path d="M406.16 387.55L407.91 389.3L406.16 391.05L404.41 389.3Z" fill="#7D4E4E"/><path d="M406.16 397.45L407.91 399.2L406.16 400.95L404.41 399.2Z" fill="#7D4E4E"/>
<path d="M410.49 247.5V268.5M410.49 313.1V372.7M409.44 247.5H411.54M409.44 372.7H411.54" stroke="#8E8E00" stroke-width="0.88" fill="none"/><rect x="409.26" y="268.5" width="2.45" height="44.6" rx="0.6" fill="#8E8E00" fill-opacity="0.3" stroke="#8E8E00" stroke-width="1.05"/><path d="M409.26 294.4H411.72" stroke="#8E8E00" stroke-width="0.8"/><path d="M410.49 383.15L412.24 384.9L410.49 386.65L408.74 384.9Z" fill="#8E8E00"/><path d="M410.49 385.68L412.24 387.43L410.49 389.18L408.74 387.43Z" fill="#8E8E00"/><path d="M410.49 388.22L412.24 389.97L410.49 391.72L408.74 389.97Z" fill="#8E8E00"/><path d="M410.49 390.75L412.24 392.5L410.49 394.25L408.74 392.5Z" fill="#8E8E00"/><path d="M410.49 396.15L412.24 397.9L410.49 399.65L408.74 397.9Z" fill="#8E8E00"/><path d="M410.49 409.65L412.24 411.4L410.49 413.15L408.74 411.4Z" fill="#8E8E00"/>
<path d="M414.82 245.6V270.4M414.82 319.5V390.6M413.77 245.6H415.87M413.77 390.6H415.87" stroke="#FB6501" stroke-width="0.88" fill="none"/><rect x="413.59" y="270.4" width="2.45" height="49.1" rx="0.6" fill="#FB6501" fill-opacity="0.3" stroke="#FB6501" stroke-width="1.05"/><path d="M413.59 292.7H416.05" stroke="#FB6501" stroke-width="0.8"/><path d="M414.82 392.45L416.57 394.2L414.82 395.95L413.07 394.2Z" fill="#FB6501"/><path d="M414.82 395.15L416.57 396.9L414.82 398.65L413.07 396.9Z" fill="#FB6501"/><path d="M414.82 400.65L416.57 402.4L414.82 404.15L413.07 402.4Z" fill="#FB6501"/><path d="M414.82 416.95L416.57 418.7L414.82 420.45L413.07 418.7Z" fill="#FB6501"/>
<path d="M419.15 246.4V266.5M419.15 312.4V378.4M418.1 246.4H420.2M418.1 378.4H420.2" stroke="#5A98D0" stroke-width="0.88" fill="none"/><rect x="417.92" y="266.5" width="2.45" height="45.9" rx="0.6" fill="#5A98D0" fill-opacity="0.3" stroke="#5A98D0" stroke-width="1.05"/><path d="M417.92 294.4H420.38" stroke="#5A98D0" stroke-width="0.8"/><path d="M419.15 381.55L420.9 383.3L419.15 385.05L417.4 383.3Z" fill="#5A98D0"/><path d="M419.15 386.45L420.9 388.2L419.15 389.95L417.4 388.2Z" fill="#5A98D0"/><path d="M419.15 397.35L420.9 399.1L419.15 400.85L417.4 399.1Z" fill="#5A98D0"/><path d="M419.15 412.65L420.9 414.4L419.15 416.15L417.4 414.4Z" fill="#5A98D0"/><path d="M419.15 424.95L420.9 426.7L419.15 428.45L417.4 426.7Z" fill="#5A98D0"/>
<path d="M435.25 242.3V254.3M435.25 275.3V305.8M434.2 242.3H436.3M434.2 305.8H436.3" stroke="#666666" stroke-width="0.88" fill="none"/><rect x="434.02" y="254.3" width="2.45" height="21" rx="0.6" fill="#666666" fill-opacity="0.3" stroke="#666666" stroke-width="1.05"/><path d="M434.02 264.1H436.48" stroke="#666666" stroke-width="0.8"/><path d="M435.25 306.25L437 308L435.25 309.75L433.5 308Z" fill="#666666"/><path d="M435.25 308.95L437 310.7L435.25 312.45L433.5 310.7Z" fill="#666666"/>
<path d="M439.58 242.3V256.5M439.58 277.5V299.3M438.53 242.3H440.63M438.53 299.3H440.63" stroke="#F14040" stroke-width="0.88" fill="none"/><rect x="438.35" y="256.5" width="2.45" height="21" rx="0.6" fill="#F14040" fill-opacity="0.3" stroke="#F14040" stroke-width="1.05"/><path d="M438.35 264.9H440.81" stroke="#F14040" stroke-width="0.8"/><path d="M439.58 306.75L441.33 308.5L439.58 310.25L437.83 308.5Z" fill="#F14040"/><path d="M439.58 308.83L441.33 310.58L439.58 312.33L437.83 310.58Z" fill="#F14040"/><path d="M439.58 310.91L441.33 312.66L439.58 314.41L437.83 312.66Z" fill="#F14040"/><path d="M439.58 312.99L441.33 314.74L439.58 316.49L437.83 314.74Z" fill="#F14040"/><path d="M439.58 315.07L441.33 316.82L439.58 318.57L437.83 316.82Z" fill="#F14040"/><path d="M439.58 317.15L441.33 318.9L439.58 320.65L437.83 318.9Z" fill="#F14040"/>
<path d="M443.91 243.6V255.6M443.91 278V310.2M442.86 243.6H444.96M442.86 310.2H444.96" stroke="#1A6FDF" stroke-width="0.88" fill="none"/><rect x="442.68" y="255.6" width="2.45" height="22.4" rx="0.6" fill="#1A6FDF" fill-opacity="0.3" stroke="#1A6FDF" stroke-width="1.05"/><path d="M442.68 264.6H445.13" stroke="#1A6FDF" stroke-width="0.8"/><path d="M443.91 309.55L445.66 311.3L443.91 313.05L442.16 311.3Z" fill="#1A6FDF"/>
<path d="M448.24 243.6V255.1M448.24 276.9V306.9M447.19 243.6H449.29M447.19 306.9H449.29" stroke="#37AD6B" stroke-width="0.88" fill="none"/><rect x="447.01" y="255.1" width="2.45" height="21.8" rx="0.6" fill="#37AD6B" fill-opacity="0.3" stroke="#37AD6B" stroke-width="1.05"/><path d="M447.01 264.4H449.46" stroke="#37AD6B" stroke-width="0.8"/><path d="M448.24 306.25L449.99 308L448.24 309.75L446.49 308Z" fill="#37AD6B"/><path d="M448.24 308.25L449.99 310L448.24 311.75L446.49 310Z" fill="#37AD6B"/><path d="M448.24 310.25L449.99 312L448.24 313.75L446.49 312Z" fill="#37AD6B"/><path d="M448.24 312.25L449.99 314L448.24 315.75L446.49 314Z" fill="#37AD6B"/><path d="M448.24 318.05L449.99 319.8L448.24 321.55L446.49 319.8Z" fill="#37AD6B"/><path d="M448.24 327.55L449.99 329.3L448.24 331.05L446.49 329.3Z" fill="#37AD6B"/><path d="M448.24 330.25L449.99 332L448.24 333.75L446.49 332Z" fill="#37AD6B"/>
<path d="M452.57 242.5V258.4M452.57 278V304.7M451.52 242.5H453.62M451.52 304.7H453.62" stroke="#B177DE" stroke-width="0.88" fill="none"/><rect x="451.34" y="258.4" width="2.45" height="19.6" rx="0.6" fill="#B177DE" fill-opacity="0.3" stroke="#B177DE" stroke-width="1.05"/><path d="M451.34 267.6H453.8" stroke="#B177DE" stroke-width="0.8"/><path d="M452.57 303.85L454.32 305.6L452.57 307.35L450.82 305.6Z" fill="#B177DE"/>
<path d="M456.9 243.4V255.1M456.9 275.3V302M455.85 243.4H457.95M455.85 302H457.95" stroke="#CC9900" stroke-width="0.88" fill="none"/><rect x="455.67" y="255.1" width="2.45" height="20.2" rx="0.6" fill="#CC9900" fill-opacity="0.3" stroke="#CC9900" stroke-width="1.05"/><path d="M455.67 264.6H458.12" stroke="#CC9900" stroke-width="0.8"/><path d="M456.9 305.15L458.65 306.9L456.9 308.65L455.15 306.9Z" fill="#CC9900"/><path d="M456.9 307.15L458.65 308.9L456.9 310.65L455.15 308.9Z" fill="#CC9900"/><path d="M456.9 309.15L458.65 310.9L456.9 312.65L455.15 310.9Z" fill="#CC9900"/><path d="M456.9 311.15L458.65 312.9L456.9 314.65L455.15 312.9Z" fill="#CC9900"/>
<path d="M461.23 241.5V252.9M461.23 278V311.3M460.18 241.5H462.28M460.18 311.3H462.28" stroke="#00CBCC" stroke-width="0.88" fill="none"/><rect x="460" y="252.9" width="2.45" height="25.1" rx="0.6" fill="#00CBCC" fill-opacity="0.3" stroke="#00CBCC" stroke-width="1.05"/><path d="M460 263.8H462.45" stroke="#00CBCC" stroke-width="0.8"/>
<path d="M465.56 242.3V254.3M465.56 276.1V305.6M464.51 242.3H466.61M464.51 305.6H466.61" stroke="#7D4E4E" stroke-width="0.88" fill="none"/><rect x="464.33" y="254.3" width="2.45" height="21.8" rx="0.6" fill="#7D4E4E" fill-opacity="0.3" stroke="#7D4E4E" stroke-width="1.05"/><path d="M464.33 264.1H466.79" stroke="#7D4E4E" stroke-width="0.8"/><path d="M465.56 310.65L467.31 312.4L465.56 314.15L463.81 312.4Z" fill="#7D4E4E"/><path d="M465.56 313.05L467.31 314.8L465.56 316.55L463.81 314.8Z" fill="#7D4E4E"/>
<path d="M469.89 244.5V253.5M469.89 274.7V305.8M468.84 244.5H470.94M468.84 305.8H470.94" stroke="#8E8E00" stroke-width="0.88" fill="none"/><rect x="468.66" y="253.5" width="2.45" height="21.2" rx="0.6" fill="#8E8E00" fill-opacity="0.3" stroke="#8E8E00" stroke-width="1.05"/><path d="M468.66 265.2H471.12" stroke="#8E8E00" stroke-width="0.8"/><path d="M469.89 305.15L471.64 306.9L469.89 308.65L468.14 306.9Z" fill="#8E8E00"/><path d="M469.89 308.75L471.64 310.5L469.89 312.25L468.14 310.5Z" fill="#8E8E00"/>
<path d="M474.22 242.5V254M474.22 277.5V306.4M473.17 242.5H475.27M473.17 306.4H475.27" stroke="#FB6501" stroke-width="0.88" fill="none"/><rect x="472.99" y="254" width="2.45" height="23.5" rx="0.6" fill="#FB6501" fill-opacity="0.3" stroke="#FB6501" stroke-width="1.05"/><path d="M472.99 264.6H475.44" stroke="#FB6501" stroke-width="0.8"/><path d="M474.22 310.65L475.97 312.4L474.22 314.15L472.47 312.4Z" fill="#FB6501"/><path d="M474.22 312.55L475.97 314.3L474.22 316.05L472.47 314.3Z" fill="#FB6501"/><path d="M474.22 314.45L475.97 316.2L474.22 317.95L472.47 316.2Z" fill="#FB6501"/>
<path d="M478.55 242.5V255.4M478.55 276.1V308.5M477.5 242.5H479.6M477.5 308.5H479.6" stroke="#5A98D0" stroke-width="0.88" fill="none"/><rect x="477.32" y="255.4" width="2.45" height="20.7" rx="0.6" fill="#5A98D0" fill-opacity="0.3" stroke="#5A98D0" stroke-width="1.05"/><path d="M477.32 264.6H479.77" stroke="#5A98D0" stroke-width="0.8"/><path d="M478.55 308.95L480.3 310.7L478.55 312.45L476.8 310.7Z" fill="#5A98D0"/><path d="M478.55 310.85L480.3 312.6L478.55 314.35L476.8 312.6Z" fill="#5A98D0"/><path d="M478.55 312.75L480.3 314.5L478.55 316.25L476.8 314.5Z" fill="#5A98D0"/>
<path d="M494.65 247.1V256.2M494.65 270.9V291.1M493.6 247.1H495.7M493.6 291.1H495.7" stroke="#666666" stroke-width="0.88" fill="none"/><rect x="493.42" y="256.2" width="2.45" height="14.7" rx="0.6" fill="#666666" fill-opacity="0.3" stroke="#666666" stroke-width="1.05"/><path d="M493.42 262.2H495.88" stroke="#666666" stroke-width="0.8"/><path d="M494.65 292.05L496.4 293.8L494.65 295.55L492.9 293.8Z" fill="#666666"/><path d="M494.65 295.85L496.4 297.6L494.65 299.35L492.9 297.6Z" fill="#666666"/><path d="M494.65 298.65L496.4 300.4L494.65 302.15L492.9 300.4Z" fill="#666666"/>
<path d="M498.98 244.7V251.3M498.98 269.8V288.4M497.93 244.7H500.03M497.93 288.4H500.03" stroke="#F14040" stroke-width="0.88" fill="none"/><rect x="497.75" y="251.3" width="2.45" height="18.5" rx="0.6" fill="#F14040" fill-opacity="0.3" stroke="#F14040" stroke-width="1.05"/><path d="M497.75 260.5H500.2" stroke="#F14040" stroke-width="0.8"/><path d="M498.98 298.85L500.73 300.6L498.98 302.35L497.23 300.6Z" fill="#F14040"/>
<path d="M503.31 241.2V252.4M503.31 272.2V299.3M502.26 241.2H504.36M502.26 299.3H504.36" stroke="#1A6FDF" stroke-width="0.88" fill="none"/><rect x="502.08" y="252.4" width="2.45" height="19.8" rx="0.6" fill="#1A6FDF" fill-opacity="0.3" stroke="#1A6FDF" stroke-width="1.05"/><path d="M502.08 261.6H504.53" stroke="#1A6FDF" stroke-width="0.8"/><path d="M503.31 306.15L505.06 307.9L503.31 309.65L501.56 307.9Z" fill="#1A6FDF"/><path d="M503.31 313.85L505.06 315.6L503.31 317.35L501.56 315.6Z" fill="#1A6FDF"/>
<path d="M507.64 244.2V254M507.64 273.6V303.6M506.59 244.2H508.69M506.59 303.6H508.69" stroke="#37AD6B" stroke-width="0.88" fill="none"/><rect x="506.41" y="254" width="2.45" height="19.6" rx="0.6" fill="#37AD6B" fill-opacity="0.3" stroke="#37AD6B" stroke-width="1.05"/><path d="M506.41 262.2H508.86" stroke="#37AD6B" stroke-width="0.8"/><path d="M507.64 302.45L509.39 304.2L507.64 305.95L505.89 304.2Z" fill="#37AD6B"/><path d="M507.64 304.1L509.39 305.85L507.64 307.6L505.89 305.85Z" fill="#37AD6B"/><path d="M507.64 305.75L509.39 307.5L507.64 309.25L505.89 307.5Z" fill="#37AD6B"/><path d="M507.64 313.35L509.39 315.1L507.64 316.85L505.89 315.1Z" fill="#37AD6B"/><path d="M507.64 334.85L509.39 336.6L507.64 338.35L505.89 336.6Z" fill="#37AD6B"/>
<path d="M511.97 243.6V251.1M511.97 264.9V284.5M510.92 243.6H513.02M510.92 284.5H513.02" stroke="#B177DE" stroke-width="0.88" fill="none"/><rect x="510.74" y="251.1" width="2.45" height="13.8" rx="0.6" fill="#B177DE" fill-opacity="0.3" stroke="#B177DE" stroke-width="1.05"/><path d="M510.74 257.8H513.19" stroke="#B177DE" stroke-width="0.8"/><path d="M511.97 286.85L513.72 288.6L511.97 290.35L510.22 288.6Z" fill="#B177DE"/><path d="M511.97 292.65L513.72 294.4L511.97 296.15L510.22 294.4Z" fill="#B177DE"/><path d="M511.97 295.1L513.72 296.85L511.97 298.6L510.22 296.85Z" fill="#B177DE"/><path d="M511.97 297.55L513.72 299.3L511.97 301.05L510.22 299.3Z" fill="#B177DE"/>
<path d="M516.3 246.4V251.8M516.3 268.2V289.2M515.25 246.4H517.35M515.25 289.2H517.35" stroke="#CC9900" stroke-width="0.88" fill="none"/><rect x="515.07" y="251.8" width="2.45" height="16.4" rx="0.6" fill="#CC9900" fill-opacity="0.3" stroke="#CC9900" stroke-width="1.05"/><path d="M515.07 259.5H517.52" stroke="#CC9900" stroke-width="0.8"/><path d="M516.3 290.45L518.05 292.2L516.3 293.95L514.55 292.2Z" fill="#CC9900"/><path d="M516.3 292.05L518.05 293.8L516.3 295.55L514.55 293.8Z" fill="#CC9900"/><path d="M516.3 309.55L518.05 311.3L516.3 313.05L514.55 311.3Z" fill="#CC9900"/><path d="M516.3 317.15L518.05 318.9L516.3 320.65L514.55 318.9Z" fill="#CC9900"/>
<path d="M520.63 244.7V253.2M520.63 269.3V289.2M519.58 244.7H521.68M519.58 289.2H521.68" stroke="#00CBCC" stroke-width="0.88" fill="none"/><rect x="519.4" y="253.2" width="2.45" height="16.1" rx="0.6" fill="#00CBCC" fill-opacity="0.3" stroke="#00CBCC" stroke-width="1.05"/><path d="M519.4 260.5H521.86" stroke="#00CBCC" stroke-width="0.8"/><path d="M520.63 310.75L522.38 312.5L520.63 314.25L518.88 312.5Z" fill="#00CBCC"/><path d="M520.63 317.15L522.38 318.9L520.63 320.65L518.88 318.9Z" fill="#00CBCC"/>
<path d="M524.96 244.2V253.2M524.96 270.4V295.5M523.91 244.2H526.01M523.91 295.5H526.01" stroke="#7D4E4E" stroke-width="0.88" fill="none"/><rect x="523.73" y="253.2" width="2.45" height="17.2" rx="0.6" fill="#7D4E4E" fill-opacity="0.3" stroke="#7D4E4E" stroke-width="1.05"/><path d="M523.73 260.5H526.18" stroke="#7D4E4E" stroke-width="0.8"/><path d="M524.96 295.15L526.71 296.9L524.96 298.65L523.21 296.9Z" fill="#7D4E4E"/><path d="M524.96 299.75L526.71 301.5L524.96 303.25L523.21 301.5Z" fill="#7D4E4E"/><path d="M524.96 301.65L526.71 303.4L524.96 305.15L523.21 303.4Z" fill="#7D4E4E"/><path d="M524.96 303.55L526.71 305.3L524.96 307.05L523.21 305.3Z" fill="#7D4E4E"/><path d="M524.96 314.45L526.71 316.2L524.96 317.95L523.21 316.2Z" fill="#7D4E4E"/><path d="M524.96 317.15L526.71 318.9L524.96 320.65L523.21 318.9Z" fill="#7D4E4E"/><path d="M524.96 319.85L526.71 321.6L524.96 323.35L523.21 321.6Z" fill="#7D4E4E"/><path d="M524.96 325.05L526.71 326.8L524.96 328.55L523.21 326.8Z" fill="#7D4E4E"/>
<path d="M529.29 243.4V250.4M529.29 271.1V298.7M528.24 243.4H530.34M528.24 298.7H530.34" stroke="#8E8E00" stroke-width="0.88" fill="none"/><rect x="528.06" y="250.4" width="2.45" height="20.7" rx="0.6" fill="#8E8E00" fill-opacity="0.3" stroke="#8E8E00" stroke-width="1.05"/><path d="M528.06 259.5H530.51" stroke="#8E8E00" stroke-width="0.8"/><path d="M529.29 306.25L531.04 308L529.29 309.75L527.54 308Z" fill="#8E8E00"/><path d="M529.29 307.9L531.04 309.65L529.29 311.4L527.54 309.65Z" fill="#8E8E00"/><path d="M529.29 309.55L531.04 311.3L529.29 313.05L527.54 311.3Z" fill="#8E8E00"/>
<path d="M533.62 244.5V254.5M533.62 267.9V286.7M532.57 244.5H534.67M532.57 286.7H534.67" stroke="#FB6501" stroke-width="0.88" fill="none"/><rect x="532.39" y="254.5" width="2.45" height="13.4" rx="0.6" fill="#FB6501" fill-opacity="0.3" stroke="#FB6501" stroke-width="1.05"/><path d="M532.39 260.5H534.85" stroke="#FB6501" stroke-width="0.8"/><path d="M533.62 286.65L535.37 288.4L533.62 290.15L531.87 288.4Z" fill="#FB6501"/><path d="M533.62 293.15L535.37 294.9L533.62 296.65L531.87 294.9Z" fill="#FB6501"/><path d="M533.62 295.35L535.37 297.1L533.62 298.85L531.87 297.1Z" fill="#FB6501"/><path d="M533.62 297.55L535.37 299.3L533.62 301.05L531.87 299.3Z" fill="#FB6501"/><path d="M533.62 299.75L535.37 301.5L533.62 303.25L531.87 301.5Z" fill="#FB6501"/><path d="M533.62 316.65L535.37 318.4L533.62 320.15L531.87 318.4Z" fill="#FB6501"/><path d="M533.62 319.35L535.37 321.1L533.62 322.85L531.87 321.1Z" fill="#FB6501"/>
<path d="M537.95 240.6V251.1M537.95 267.6V290M536.9 240.6H539M536.9 290H539" stroke="#5A98D0" stroke-width="0.88" fill="none"/><rect x="536.72" y="251.1" width="2.45" height="16.5" rx="0.6" fill="#5A98D0" fill-opacity="0.3" stroke="#5A98D0" stroke-width="1.05"/><path d="M536.72 258.7H539.17" stroke="#5A98D0" stroke-width="0.8"/><path d="M537.95 292.95L539.7 294.7L537.95 296.45L536.2 294.7Z" fill="#5A98D0"/><path d="M537.95 297.55L539.7 299.3L537.95 301.05L536.2 299.3Z" fill="#5A98D0"/><path d="M537.95 299.72L539.7 301.47L537.95 303.22L536.2 301.47Z" fill="#5A98D0"/><path d="M537.95 301.88L539.7 303.63L537.95 305.38L536.2 303.63Z" fill="#5A98D0"/><path d="M537.95 304.05L539.7 305.8L537.95 307.55L536.2 305.8Z" fill="#5A98D0"/><path d="M537.95 309.55L539.7 311.3L537.95 313.05L536.2 311.3Z" fill="#5A98D0"/>
<rect x="308.6" y="237" width="237.6" height="191.3" fill="none" stroke="#262626" stroke-width="1.05"/>
<path d="M304.8 237H308.6M306.6 245.7H308.6M304.8 254.39H308.6M306.6 263.09H308.6M304.8 271.78H308.6M306.6 280.48H308.6M304.8 289.17H308.6M306.6 297.87H308.6M304.8 306.56H308.6M306.6 315.26H308.6M304.8 323.95H308.6M306.6 332.65H308.6M304.8 341.35H308.6M306.6 350.04H308.6M304.8 358.74H308.6M306.6 367.43H308.6M304.8 376.13H308.6M306.6 384.82H308.6M304.8 393.52H308.6M306.6 402.21H308.6M304.8 410.91H308.6M306.6 419.6H308.6M304.8 428.3H308.6M338.2 428.3V431.8M397.5 428.3V431.8M456.9 428.3V431.8M516.3 428.3V431.8" stroke="#262626" stroke-width="1" fill="none"/>
<text x="302" y="239.7" text-anchor="end" class="t" font-size="8" fill="#1a1a1a">1.0</text>
<text x="302" y="257.09" text-anchor="end" class="t" font-size="8" fill="#1a1a1a">0.8</text>
<text x="302" y="274.48" text-anchor="end" class="t" font-size="8" fill="#1a1a1a">0.6</text>
<text x="302" y="291.87" text-anchor="end" class="t" font-size="8" fill="#1a1a1a">0.4</text>
<text x="302" y="309.26" text-anchor="end" class="t" font-size="8" fill="#1a1a1a">0.2</text>
<text x="302" y="326.65" text-anchor="end" class="t" font-size="8" fill="#1a1a1a">0.0</text>
<text x="302" y="344.05" text-anchor="end" class="t" font-size="8" fill="#1a1a1a">−0.2</text>
<text x="302" y="361.44" text-anchor="end" class="t" font-size="8" fill="#1a1a1a">−0.4</text>
<text x="302" y="378.83" text-anchor="end" class="t" font-size="8" fill="#1a1a1a">−0.6</text>
<text x="302" y="396.22" text-anchor="end" class="t" font-size="8" fill="#1a1a1a">−0.8</text>
<text x="302" y="413.61" text-anchor="end" class="t" font-size="8" fill="#1a1a1a">−1.0</text>
<text x="302" y="431" text-anchor="end" class="t" font-size="8" fill="#1a1a1a">−1.2</text>
<text x="338.2" y="443.6" text-anchor="middle" class="t" font-size="8" fill="#1a1a1a">BRR</text>
<text x="397.5" y="443.6" text-anchor="middle" class="t" font-size="8" fill="#1a1a1a">DTR</text>
<text x="456.9" y="443.6" text-anchor="middle" class="t" font-size="8" fill="#1a1a1a">GBR</text>
<text x="516.3" y="443.6" text-anchor="middle" class="t" font-size="8" fill="#1a1a1a">XGBR</text>
<text x="411" y="232" class="t" font-size="10" fill="#1a1a1a">COD<tspan font-size="6.8" dy="2.2">Mn</tspan></text>
<text transform="translate(283.4 332.65) rotate(-90)" text-anchor="middle" class="t" font-size="10" fill="#1a1a1a">R<tspan font-size="5.6" dy="-3.9">2</tspan></text>
<text x="313.2" y="421.4" class="t" font-size="13.5" fill="#111">(d)</text>
<rect x="164" y="150.6" width="110.1" height="54.8" fill="#fff" stroke="#8a8a8a" stroke-width="0.9"/>
<text x="180" y="156.5" class="t" font-size="5.3" fill="#222">25%~75%</text>
<rect x="164.8" y="151.9" width="12.4" height="5.6" fill="#6a6a6a" fill-opacity="0.4" stroke="#6a6a6a" stroke-width="1.1"/>
<text x="180" y="163.3" class="t" font-size="5.3" fill="#222">Range within 1.5IQR</text>
<path d="M168.3 158.7H173.7M171 158.7V164.3M168.3 164.3H173.7" stroke="#555" stroke-width="0.8" fill="none"/>
<text x="180" y="170.1" class="t" font-size="5.3" fill="#222">Median Line</text>
<path d="M166.5 168.3H175.5" stroke="#666" stroke-width="0.8"/>
<text x="180" y="176.9" class="t" font-size="5.3" fill="#222">Mean</text>
<rect x="169.9" y="174" width="2.2" height="2.2" fill="#fff" stroke="#999" stroke-width="0.5"/>
<text x="180" y="183.7" class="t" font-size="5.3" fill="#222">Outliers</text>
<path d="M171 180.2L172.7 181.9L171 183.6L169.3 181.9Z" fill="#444"/>
<text x="180" y="190.5" class="t" font-size="5.3" fill="#222">RReleif</text>
<rect x="164.8" y="185.9" width="12.4" height="5.6" fill="#666666" fill-opacity="0.4" stroke="#666666" stroke-width="1.1"/>
<text x="180" y="197.3" class="t" font-size="5.3" fill="#222">MI</text>
<rect x="164.8" y="192.7" width="12.4" height="5.6" fill="#F14040" fill-opacity="0.4" stroke="#F14040" stroke-width="1.1"/>
<text x="180" y="204.1" class="t" font-size="5.3" fill="#222">F-test</text>
<rect x="164.8" y="199.5" width="12.4" height="5.6" fill="#1A6FDF" fill-opacity="0.4" stroke="#1A6FDF" stroke-width="1.1"/>
<text x="246.8" y="156.5" class="t" font-size="5.3" fill="#222">GA</text>
<rect x="231.6" y="151.9" width="12.4" height="5.6" fill="#37AD6B" fill-opacity="0.4" stroke="#37AD6B" stroke-width="1.1"/>
<text x="246.8" y="163.3" class="t" font-size="5.3" fill="#222">SVM-RFE</text>
<rect x="231.6" y="158.7" width="12.4" height="5.6" fill="#B177DE" fill-opacity="0.4" stroke="#B177DE" stroke-width="1.1"/>
<text x="246.8" y="170.1" class="t" font-size="5.3" fill="#222">RF-RFE</text>
<rect x="231.6" y="165.5" width="12.4" height="5.6" fill="#CC9900" fill-opacity="0.4" stroke="#CC9900" stroke-width="1.1"/>
<text x="246.8" y="176.9" class="t" font-size="5.3" fill="#222">SHAP</text>
<rect x="231.6" y="172.3" width="12.4" height="5.6" fill="#00CBCC" fill-opacity="0.4" stroke="#00CBCC" stroke-width="1.1"/>
<text x="246.8" y="183.7" class="t" font-size="5.3" fill="#222">Emb_RF</text>
<rect x="231.6" y="179.1" width="12.4" height="5.6" fill="#7D4E4E" fill-opacity="0.4" stroke="#7D4E4E" stroke-width="1.1"/>
<text x="246.8" y="190.5" class="t" font-size="5.3" fill="#222">Emb_Lasso</text>
<rect x="231.6" y="185.9" width="12.4" height="5.6" fill="#8E8E00" fill-opacity="0.4" stroke="#8E8E00" stroke-width="1.1"/>
<text x="246.8" y="197.3" class="t" font-size="5.3" fill="#222">Mean_ranks</text>
<rect x="231.6" y="192.7" width="12.4" height="5.6" fill="#FB6501" fill-opacity="0.4" stroke="#FB6501" stroke-width="1.1"/>
<text x="246.8" y="204.1" class="t" font-size="5.3" fill="#222">MRR</text>
<rect x="231.6" y="199.5" width="12.4" height="5.6" fill="#5A98D0" fill-opacity="0.4" stroke="#5A98D0" stroke-width="1.1"/>
<path d="M164 205.4H274.6V150.6" stroke="#262626" stroke-width="1.05" fill="none"/>
</svg>
</body></html>
